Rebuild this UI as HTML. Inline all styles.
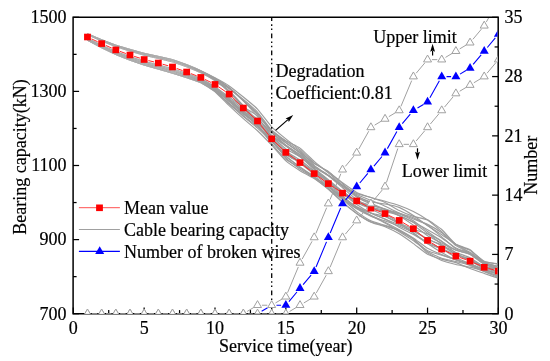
<!DOCTYPE html>
<html><head><meta charset="utf-8"><style>
html,body{margin:0;padding:0;background:#fff;width:550px;height:361px;overflow:hidden;}
svg{display:block;font-family:"Liberation Serif",serif;will-change:transform;}
</style></head><body>
<svg width="550" height="361" viewBox="0 0 550 361">
<defs><clipPath id="pc"><rect x="73.75" y="17.95" width="423.7" height="295.1"/></clipPath><clipPath id="pc2"><rect x="73.75" y="17.95" width="423.7" height="295.75"/></clipPath><linearGradient id="ge" gradientUnits="userSpaceOnUse" x1="180" y1="0" x2="220" y2="0"><stop offset="0" stop-color="#fff"/><stop offset="1" stop-color="#000"/></linearGradient><linearGradient id="gl" gradientUnits="userSpaceOnUse" x1="180" y1="0" x2="220" y2="0"><stop offset="0" stop-color="#000"/><stop offset="1" stop-color="#fff"/></linearGradient><mask id="early" maskUnits="userSpaceOnUse" x="0" y="0" width="550" height="361"><rect width="550" height="361" fill="url(#ge)"/></mask><mask id="late" maskUnits="userSpaceOnUse" x="0" y="0" width="550" height="361"><rect width="550" height="361" fill="url(#gl)"/></mask><clipPath id="pc3"><rect x="73.75" y="17.95" width="423.7" height="295.05"/></clipPath></defs>
<rect width="550" height="361" fill="#fff"/>
<path d="M73.1,16.55V314.45M498.2,16.55V314.45M72.35,17.3H498.95M72.35,313.75H498.95" fill="none" stroke="#000" stroke-width="1.5"/>
<line x1="73" y1="313.70" x2="79.10" y2="313.70" stroke="#000" stroke-width="1.25"/>
<line x1="73" y1="276.65" x2="76.60" y2="276.65" stroke="#000" stroke-width="1.25"/>
<line x1="73" y1="239.60" x2="79.10" y2="239.60" stroke="#000" stroke-width="1.25"/>
<line x1="73" y1="202.55" x2="76.60" y2="202.55" stroke="#000" stroke-width="1.25"/>
<line x1="73" y1="165.50" x2="79.10" y2="165.50" stroke="#000" stroke-width="1.25"/>
<line x1="73" y1="128.45" x2="76.60" y2="128.45" stroke="#000" stroke-width="1.25"/>
<line x1="73" y1="91.40" x2="79.10" y2="91.40" stroke="#000" stroke-width="1.25"/>
<line x1="73" y1="54.35" x2="76.60" y2="54.35" stroke="#000" stroke-width="1.25"/>
<line x1="73" y1="17.30" x2="79.10" y2="17.30" stroke="#000" stroke-width="1.25"/>
<line x1="498.2" y1="313.70" x2="492.10" y2="313.70" stroke="#000" stroke-width="1.25"/>
<line x1="498.2" y1="284.06" x2="494.60" y2="284.06" stroke="#000" stroke-width="1.25"/>
<line x1="498.2" y1="254.42" x2="492.10" y2="254.42" stroke="#000" stroke-width="1.25"/>
<line x1="498.2" y1="224.78" x2="494.60" y2="224.78" stroke="#000" stroke-width="1.25"/>
<line x1="498.2" y1="195.14" x2="492.10" y2="195.14" stroke="#000" stroke-width="1.25"/>
<line x1="498.2" y1="165.50" x2="494.60" y2="165.50" stroke="#000" stroke-width="1.25"/>
<line x1="498.2" y1="135.86" x2="492.10" y2="135.86" stroke="#000" stroke-width="1.25"/>
<line x1="498.2" y1="106.22" x2="494.60" y2="106.22" stroke="#000" stroke-width="1.25"/>
<line x1="498.2" y1="76.58" x2="492.10" y2="76.58" stroke="#000" stroke-width="1.25"/>
<line x1="498.2" y1="46.94" x2="494.60" y2="46.94" stroke="#000" stroke-width="1.25"/>
<line x1="498.2" y1="17.30" x2="492.10" y2="17.30" stroke="#000" stroke-width="1.25"/>
<line x1="73.30" y1="313.7" x2="73.30" y2="307.60" stroke="#000" stroke-width="1.25"/>
<line x1="108.72" y1="313.7" x2="108.72" y2="310.10" stroke="#000" stroke-width="1.25"/>
<line x1="144.15" y1="313.7" x2="144.15" y2="307.60" stroke="#000" stroke-width="1.25"/>
<line x1="179.57" y1="313.7" x2="179.57" y2="310.10" stroke="#000" stroke-width="1.25"/>
<line x1="215.00" y1="313.7" x2="215.00" y2="307.60" stroke="#000" stroke-width="1.25"/>
<line x1="250.43" y1="313.7" x2="250.43" y2="310.10" stroke="#000" stroke-width="1.25"/>
<line x1="285.85" y1="313.7" x2="285.85" y2="307.60" stroke="#000" stroke-width="1.25"/>
<line x1="321.27" y1="313.7" x2="321.27" y2="310.10" stroke="#000" stroke-width="1.25"/>
<line x1="356.70" y1="313.7" x2="356.70" y2="307.60" stroke="#000" stroke-width="1.25"/>
<line x1="392.12" y1="313.7" x2="392.12" y2="310.10" stroke="#000" stroke-width="1.25"/>
<line x1="427.55" y1="313.7" x2="427.55" y2="307.60" stroke="#000" stroke-width="1.25"/>
<line x1="462.98" y1="313.7" x2="462.98" y2="310.10" stroke="#000" stroke-width="1.25"/>
<line x1="498.40" y1="313.7" x2="498.40" y2="307.60" stroke="#000" stroke-width="1.25"/>
<g clip-path="url(#pc)">
<path d="M87.47,33.69C88.41,34.08 99.75,38.86 101.64,39.62C103.53,40.38 113.92,44.43 115.81,45.08C117.70,45.72 128.09,48.74 129.98,49.29C131.87,49.83 142.26,52.77 144.15,53.24C146.04,53.71 156.43,55.93 158.32,56.36C160.21,56.79 170.60,59.14 172.49,59.69C174.38,60.24 184.77,63.92 186.66,64.66C188.55,65.39 198.94,69.81 200.83,70.69C202.72,71.57 213.11,76.80 215.00,77.82C216.89,78.83 227.28,84.65 229.17,85.93C231.06,87.21 241.45,95.49 243.34,97.03C245.23,98.57 255.62,107.07 257.51,109.06C259.40,111.05 269.79,124.88 271.68,126.86C273.57,128.85 283.96,137.36 285.85,138.89C287.74,140.42 298.13,148.21 300.02,149.81C301.91,151.42 312.30,161.53 314.19,163.02C316.08,164.50 326.47,170.73 328.36,172.05C330.25,173.37 340.64,181.47 342.53,182.83C344.42,184.19 354.81,191.44 356.70,192.42C358.59,193.40 368.98,196.94 370.87,197.53C372.76,198.12 383.15,200.70 385.04,201.24C386.93,201.78 397.32,204.88 399.21,205.57C401.10,206.26 411.49,210.64 413.38,211.59C415.27,212.55 425.66,218.57 427.55,219.91C429.44,221.24 439.83,229.93 441.72,231.57C443.61,233.21 454.00,243.28 455.89,244.53C457.78,245.78 468.17,249.22 470.06,250.34C471.95,251.46 482.34,260.40 484.23,261.33C486.12,262.26 497.46,264.07 498.40,264.27" fill="none" stroke="#aaaaaa" stroke-width="0.85" mask="url(#early)"/>
<path d="M87.47,33.69C88.41,34.08 99.75,38.86 101.64,39.62C103.53,40.38 113.92,44.43 115.81,45.08C117.70,45.72 128.09,48.74 129.98,49.29C131.87,49.83 142.26,52.77 144.15,53.24C146.04,53.71 156.43,55.93 158.32,56.36C160.21,56.79 170.60,59.14 172.49,59.69C174.38,60.24 184.77,63.92 186.66,64.66C188.55,65.39 198.94,69.81 200.83,70.69C202.72,71.57 213.11,76.80 215.00,77.82C216.89,78.83 227.28,84.65 229.17,85.93C231.06,87.21 241.45,95.49 243.34,97.03C245.23,98.57 255.62,107.07 257.51,109.06C259.40,111.05 269.79,124.88 271.68,126.86C273.57,128.85 283.96,137.36 285.85,138.89C287.74,140.42 298.13,148.21 300.02,149.81C301.91,151.42 312.30,161.53 314.19,163.02C316.08,164.50 326.47,170.73 328.36,172.05C330.25,173.37 340.64,181.47 342.53,182.83C344.42,184.19 354.81,191.44 356.70,192.42C358.59,193.40 368.98,196.94 370.87,197.53C372.76,198.12 383.15,200.70 385.04,201.24C386.93,201.78 397.32,204.88 399.21,205.57C401.10,206.26 411.49,210.64 413.38,211.59C415.27,212.55 425.66,218.57 427.55,219.91C429.44,221.24 439.83,229.93 441.72,231.57C443.61,233.21 454.00,243.28 455.89,244.53C457.78,245.78 468.17,249.22 470.06,250.34C471.95,251.46 482.34,260.40 484.23,261.33C486.12,262.26 497.46,264.07 498.40,264.27" fill="none" stroke="#9c9c9c" stroke-width="1.15" mask="url(#late)"/>
<path d="M87.47,33.71C88.41,34.10 99.75,38.84 101.64,39.60C103.53,40.36 113.92,44.43 115.81,45.08C117.70,45.72 128.09,48.79 129.98,49.34C131.87,49.89 142.26,52.82 144.15,53.28C146.04,53.75 156.43,55.88 158.32,56.30C160.21,56.72 170.60,59.01 172.49,59.57C174.38,60.12 184.77,63.86 186.66,64.61C188.55,65.35 198.94,69.82 200.83,70.74C202.72,71.65 213.11,77.19 215.00,78.33C216.89,79.46 227.28,86.24 229.17,87.74C231.06,89.24 241.45,98.93 243.34,100.86C245.23,102.80 255.62,114.40 257.51,116.74C259.40,119.08 269.79,133.84 271.68,135.99C273.57,138.13 283.96,147.47 285.85,148.86C287.74,150.24 298.13,155.44 300.02,156.77C301.91,158.11 312.30,167.23 314.19,168.87C316.08,170.52 326.47,179.81 328.36,181.46C330.25,183.11 340.64,192.30 342.53,193.66C344.42,195.02 354.81,200.96 356.70,201.84C358.59,202.72 368.98,206.02 370.87,206.81C372.76,207.59 383.15,212.56 385.04,213.63C386.93,214.69 397.32,221.73 399.21,222.77C401.10,223.80 411.49,228.44 413.38,229.18C415.27,229.92 425.66,233.08 427.55,233.88C429.44,234.68 439.83,239.89 441.72,241.18C443.61,242.48 454.00,251.98 455.89,253.27C457.78,254.57 468.17,259.66 470.06,260.59C471.95,261.51 482.34,266.57 484.23,267.16C486.12,267.76 497.46,269.38 498.40,269.54" fill="none" stroke="#aaaaaa" stroke-width="0.85" mask="url(#early)"/>
<path d="M87.47,33.71C88.41,34.10 99.75,38.84 101.64,39.60C103.53,40.36 113.92,44.43 115.81,45.08C117.70,45.72 128.09,48.79 129.98,49.34C131.87,49.89 142.26,52.82 144.15,53.28C146.04,53.75 156.43,55.88 158.32,56.30C160.21,56.72 170.60,59.01 172.49,59.57C174.38,60.12 184.77,63.86 186.66,64.61C188.55,65.35 198.94,69.82 200.83,70.74C202.72,71.65 213.11,77.19 215.00,78.33C216.89,79.46 227.28,86.24 229.17,87.74C231.06,89.24 241.45,98.93 243.34,100.86C245.23,102.80 255.62,114.40 257.51,116.74C259.40,119.08 269.79,133.84 271.68,135.99C273.57,138.13 283.96,147.47 285.85,148.86C287.74,150.24 298.13,155.44 300.02,156.77C301.91,158.11 312.30,167.23 314.19,168.87C316.08,170.52 326.47,179.81 328.36,181.46C330.25,183.11 340.64,192.30 342.53,193.66C344.42,195.02 354.81,200.96 356.70,201.84C358.59,202.72 368.98,206.02 370.87,206.81C372.76,207.59 383.15,212.56 385.04,213.63C386.93,214.69 397.32,221.73 399.21,222.77C401.10,223.80 411.49,228.44 413.38,229.18C415.27,229.92 425.66,233.08 427.55,233.88C429.44,234.68 439.83,239.89 441.72,241.18C443.61,242.48 454.00,251.98 455.89,253.27C457.78,254.57 468.17,259.66 470.06,260.59C471.95,261.51 482.34,266.57 484.23,267.16C486.12,267.76 497.46,269.38 498.40,269.54" fill="none" stroke="#9c9c9c" stroke-width="1.15" mask="url(#late)"/>
<path d="M87.47,33.72C88.41,34.12 99.75,38.88 101.64,39.64C103.53,40.39 113.92,44.43 115.81,45.07C117.70,45.71 128.09,48.74 129.98,49.29C131.87,49.83 142.26,52.78 144.15,53.26C146.04,53.73 156.43,55.93 158.32,56.36C160.21,56.78 170.60,59.08 172.49,59.63C174.38,60.18 184.77,63.84 186.66,64.58C188.55,65.31 198.94,69.75 200.83,70.66C202.72,71.57 213.11,77.03 215.00,78.17C216.89,79.31 227.28,86.24 229.17,87.71C231.06,89.19 241.45,98.60 243.34,100.31C245.23,102.02 255.62,111.27 257.51,113.35C259.40,115.43 269.79,129.35 271.68,131.52C273.57,133.69 283.96,144.26 285.85,145.94C287.74,147.62 298.13,155.28 300.02,156.71C301.91,158.13 312.30,166.02 314.19,167.30C316.08,168.58 326.47,174.53 328.36,175.89C330.25,177.26 340.64,186.17 342.53,187.76C344.42,189.35 354.81,198.41 356.70,199.70C358.59,200.98 368.98,206.34 370.87,207.05C372.76,207.77 383.15,210.01 385.04,210.46C386.93,210.92 397.32,213.18 399.21,213.87C401.10,214.56 411.49,219.63 413.38,220.80C415.27,221.98 425.66,230.11 427.55,231.48C429.44,232.86 439.83,240.18 441.72,241.42C443.61,242.65 454.00,249.16 455.89,250.01C457.78,250.86 468.17,253.26 470.06,254.21C471.95,255.15 482.34,263.14 484.23,264.12C486.12,265.10 497.46,268.59 498.40,268.91" fill="none" stroke="#aaaaaa" stroke-width="0.85" mask="url(#early)"/>
<path d="M87.47,33.72C88.41,34.12 99.75,38.88 101.64,39.64C103.53,40.39 113.92,44.43 115.81,45.07C117.70,45.71 128.09,48.74 129.98,49.29C131.87,49.83 142.26,52.78 144.15,53.26C146.04,53.73 156.43,55.93 158.32,56.36C160.21,56.78 170.60,59.08 172.49,59.63C174.38,60.18 184.77,63.84 186.66,64.58C188.55,65.31 198.94,69.75 200.83,70.66C202.72,71.57 213.11,77.03 215.00,78.17C216.89,79.31 227.28,86.24 229.17,87.71C231.06,89.19 241.45,98.60 243.34,100.31C245.23,102.02 255.62,111.27 257.51,113.35C259.40,115.43 269.79,129.35 271.68,131.52C273.57,133.69 283.96,144.26 285.85,145.94C287.74,147.62 298.13,155.28 300.02,156.71C301.91,158.13 312.30,166.02 314.19,167.30C316.08,168.58 326.47,174.53 328.36,175.89C330.25,177.26 340.64,186.17 342.53,187.76C344.42,189.35 354.81,198.41 356.70,199.70C358.59,200.98 368.98,206.34 370.87,207.05C372.76,207.77 383.15,210.01 385.04,210.46C386.93,210.92 397.32,213.18 399.21,213.87C401.10,214.56 411.49,219.63 413.38,220.80C415.27,221.98 425.66,230.11 427.55,231.48C429.44,232.86 439.83,240.18 441.72,241.42C443.61,242.65 454.00,249.16 455.89,250.01C457.78,250.86 468.17,253.26 470.06,254.21C471.95,255.15 482.34,263.14 484.23,264.12C486.12,265.10 497.46,268.59 498.40,268.91" fill="none" stroke="#9c9c9c" stroke-width="1.15" mask="url(#late)"/>
<path d="M87.47,34.26C88.41,34.67 99.75,39.55 101.64,40.33C103.53,41.10 113.92,45.25 115.81,45.91C117.70,46.57 128.09,49.69 129.98,50.25C131.87,50.81 142.26,53.80 144.15,54.28C146.04,54.76 156.43,57.03 158.32,57.46C160.21,57.90 170.60,60.29 172.49,60.84C174.38,61.39 184.77,65.02 186.66,65.75C188.55,66.47 198.94,70.80 200.83,71.69C202.72,72.58 213.11,77.99 215.00,79.10C216.89,80.21 227.28,86.87 229.17,88.32C231.06,89.77 241.45,99.13 243.34,100.88C245.23,102.62 255.62,112.43 257.51,114.52C259.40,116.61 269.79,130.18 271.68,132.22C273.57,134.26 283.96,143.63 285.85,145.15C287.74,146.67 298.13,153.58 300.02,154.99C301.91,156.41 312.30,165.00 314.19,166.35C316.08,167.71 326.47,173.97 328.36,175.30C330.25,176.64 340.64,184.93 342.53,186.38C344.42,187.83 354.81,195.85 356.70,197.03C358.59,198.21 368.98,203.27 370.87,204.11C372.76,204.95 383.15,208.86 385.04,209.61C386.93,210.37 397.32,214.61 399.21,215.43C401.10,216.26 411.49,221.02 413.38,221.97C415.27,222.92 425.66,228.57 427.55,229.63C429.44,230.69 439.83,236.68 441.72,237.90C443.61,239.12 454.00,246.88 455.89,247.90C457.78,248.93 468.17,252.18 470.06,253.22C471.95,254.26 482.34,262.55 484.23,263.52C486.12,264.48 497.46,267.39 498.40,267.66" fill="none" stroke="#aaaaaa" stroke-width="0.85" mask="url(#early)"/>
<path d="M87.47,34.26C88.41,34.67 99.75,39.55 101.64,40.33C103.53,41.10 113.92,45.25 115.81,45.91C117.70,46.57 128.09,49.69 129.98,50.25C131.87,50.81 142.26,53.80 144.15,54.28C146.04,54.76 156.43,57.03 158.32,57.46C160.21,57.90 170.60,60.29 172.49,60.84C174.38,61.39 184.77,65.02 186.66,65.75C188.55,66.47 198.94,70.80 200.83,71.69C202.72,72.58 213.11,77.99 215.00,79.10C216.89,80.21 227.28,86.87 229.17,88.32C231.06,89.77 241.45,99.13 243.34,100.88C245.23,102.62 255.62,112.43 257.51,114.52C259.40,116.61 269.79,130.18 271.68,132.22C273.57,134.26 283.96,143.63 285.85,145.15C287.74,146.67 298.13,153.58 300.02,154.99C301.91,156.41 312.30,165.00 314.19,166.35C316.08,167.71 326.47,173.97 328.36,175.30C330.25,176.64 340.64,184.93 342.53,186.38C344.42,187.83 354.81,195.85 356.70,197.03C358.59,198.21 368.98,203.27 370.87,204.11C372.76,204.95 383.15,208.86 385.04,209.61C386.93,210.37 397.32,214.61 399.21,215.43C401.10,216.26 411.49,221.02 413.38,221.97C415.27,222.92 425.66,228.57 427.55,229.63C429.44,230.69 439.83,236.68 441.72,237.90C443.61,239.12 454.00,246.88 455.89,247.90C457.78,248.93 468.17,252.18 470.06,253.22C471.95,254.26 482.34,262.55 484.23,263.52C486.12,264.48 497.46,267.39 498.40,267.66" fill="none" stroke="#9c9c9c" stroke-width="1.15" mask="url(#late)"/>
<path d="M87.47,34.28C88.41,34.69 99.75,39.59 101.64,40.37C103.53,41.14 113.92,45.29 115.81,45.95C117.70,46.61 128.09,49.71 129.98,50.27C131.87,50.82 142.26,53.78 144.15,54.25C146.04,54.73 156.43,56.97 158.32,57.40C160.21,57.84 170.60,60.22 172.49,60.77C174.38,61.32 184.77,64.98 186.66,65.71C188.55,66.44 198.94,70.78 200.83,71.70C202.72,72.63 213.11,78.35 215.00,79.62C216.89,80.89 227.28,89.01 229.17,90.75C231.06,92.48 241.45,103.63 243.34,105.64C245.23,107.66 255.62,118.78 257.51,120.94C259.40,123.11 269.79,135.96 271.68,138.06C273.57,140.16 283.96,150.80 285.85,152.47C287.74,154.14 298.13,161.66 300.02,163.12C301.91,164.58 312.30,172.82 314.19,174.34C316.08,175.87 326.47,184.41 328.36,186.00C330.25,187.59 340.64,196.66 342.53,198.18C344.42,199.70 354.81,207.55 356.70,208.75C358.59,209.95 368.98,215.34 370.87,216.15C372.76,216.96 383.15,220.23 385.04,220.88C386.93,221.54 397.32,225.14 399.21,225.94C401.10,226.73 411.49,231.63 413.38,232.80C415.27,233.97 425.66,242.15 427.55,243.46C429.44,244.78 439.83,251.40 441.72,252.50C443.61,253.60 454.00,259.14 455.89,259.97C457.78,260.81 468.17,264.32 470.06,265.01C471.95,265.70 482.34,269.66 484.23,270.27C486.12,270.88 497.46,273.87 498.40,274.12" fill="none" stroke="#aaaaaa" stroke-width="0.85" mask="url(#early)"/>
<path d="M87.47,34.28C88.41,34.69 99.75,39.59 101.64,40.37C103.53,41.14 113.92,45.29 115.81,45.95C117.70,46.61 128.09,49.71 129.98,50.27C131.87,50.82 142.26,53.78 144.15,54.25C146.04,54.73 156.43,56.97 158.32,57.40C160.21,57.84 170.60,60.22 172.49,60.77C174.38,61.32 184.77,64.98 186.66,65.71C188.55,66.44 198.94,70.78 200.83,71.70C202.72,72.63 213.11,78.35 215.00,79.62C216.89,80.89 227.28,89.01 229.17,90.75C231.06,92.48 241.45,103.63 243.34,105.64C245.23,107.66 255.62,118.78 257.51,120.94C259.40,123.11 269.79,135.96 271.68,138.06C273.57,140.16 283.96,150.80 285.85,152.47C287.74,154.14 298.13,161.66 300.02,163.12C301.91,164.58 312.30,172.82 314.19,174.34C316.08,175.87 326.47,184.41 328.36,186.00C330.25,187.59 340.64,196.66 342.53,198.18C344.42,199.70 354.81,207.55 356.70,208.75C358.59,209.95 368.98,215.34 370.87,216.15C372.76,216.96 383.15,220.23 385.04,220.88C386.93,221.54 397.32,225.14 399.21,225.94C401.10,226.73 411.49,231.63 413.38,232.80C415.27,233.97 425.66,242.15 427.55,243.46C429.44,244.78 439.83,251.40 441.72,252.50C443.61,253.60 454.00,259.14 455.89,259.97C457.78,260.81 468.17,264.32 470.06,265.01C471.95,265.70 482.34,269.66 484.23,270.27C486.12,270.88 497.46,273.87 498.40,274.12" fill="none" stroke="#9c9c9c" stroke-width="1.15" mask="url(#late)"/>
<path d="M87.47,34.30C88.41,34.71 99.75,39.59 101.64,40.37C103.53,41.14 113.92,45.24 115.81,45.90C117.70,46.55 128.09,49.64 129.98,50.20C131.87,50.76 142.26,53.77 144.15,54.25C146.04,54.74 156.43,57.04 158.32,57.48C160.21,57.92 170.60,60.29 172.49,60.84C174.38,61.39 184.77,64.99 186.66,65.71C188.55,66.44 198.94,70.74 200.83,71.67C202.72,72.61 213.11,78.41 215.00,79.73C216.89,81.04 227.28,89.62 229.17,91.41C231.06,93.21 241.45,104.60 243.34,106.63C245.23,108.67 255.62,119.73 257.51,121.96C259.40,124.19 269.79,137.74 271.68,140.13C273.57,142.51 283.96,155.84 285.85,157.79C287.74,159.73 298.13,167.97 300.02,169.29C301.91,170.61 312.30,176.35 314.19,177.54C316.08,178.73 326.47,185.71 328.36,187.16C330.25,188.61 340.64,197.61 342.53,199.25C344.42,200.88 354.81,210.21 356.70,211.65C358.59,213.08 368.98,219.88 370.87,220.80C372.76,221.71 383.15,224.77 385.04,225.39C386.93,226.02 397.32,229.28 399.21,230.17C401.10,231.06 411.49,237.26 413.38,238.70C415.27,240.13 425.66,250.44 427.55,251.74C429.44,253.04 439.83,257.60 441.72,258.25C443.61,258.90 454.00,261.00 455.89,261.48C457.78,261.95 468.17,264.70 470.06,265.38C471.95,266.05 482.34,270.82 484.23,271.62C486.12,272.42 497.46,277.03 498.40,277.42" fill="none" stroke="#aaaaaa" stroke-width="0.85" mask="url(#early)"/>
<path d="M87.47,34.30C88.41,34.71 99.75,39.59 101.64,40.37C103.53,41.14 113.92,45.24 115.81,45.90C117.70,46.55 128.09,49.64 129.98,50.20C131.87,50.76 142.26,53.77 144.15,54.25C146.04,54.74 156.43,57.04 158.32,57.48C160.21,57.92 170.60,60.29 172.49,60.84C174.38,61.39 184.77,64.99 186.66,65.71C188.55,66.44 198.94,70.74 200.83,71.67C202.72,72.61 213.11,78.41 215.00,79.73C216.89,81.04 227.28,89.62 229.17,91.41C231.06,93.21 241.45,104.60 243.34,106.63C245.23,108.67 255.62,119.73 257.51,121.96C259.40,124.19 269.79,137.74 271.68,140.13C273.57,142.51 283.96,155.84 285.85,157.79C287.74,159.73 298.13,167.97 300.02,169.29C301.91,170.61 312.30,176.35 314.19,177.54C316.08,178.73 326.47,185.71 328.36,187.16C330.25,188.61 340.64,197.61 342.53,199.25C344.42,200.88 354.81,210.21 356.70,211.65C358.59,213.08 368.98,219.88 370.87,220.80C372.76,221.71 383.15,224.77 385.04,225.39C386.93,226.02 397.32,229.28 399.21,230.17C401.10,231.06 411.49,237.26 413.38,238.70C415.27,240.13 425.66,250.44 427.55,251.74C429.44,253.04 439.83,257.60 441.72,258.25C443.61,258.90 454.00,261.00 455.89,261.48C457.78,261.95 468.17,264.70 470.06,265.38C471.95,266.05 482.34,270.82 484.23,271.62C486.12,272.42 497.46,277.03 498.40,277.42" fill="none" stroke="#9c9c9c" stroke-width="1.15" mask="url(#late)"/>
<path d="M87.47,34.88C88.41,35.29 99.75,40.30 101.64,41.09C103.53,41.88 113.92,46.08 115.81,46.75C117.70,47.42 128.09,50.58 129.98,51.14C131.87,51.70 142.26,54.72 144.15,55.21C146.04,55.70 156.43,58.06 158.32,58.51C160.21,58.97 170.60,61.48 172.49,62.04C174.38,62.60 184.77,66.23 186.66,66.95C188.55,67.66 198.94,71.85 200.83,72.77C202.72,73.69 213.11,79.48 215.00,80.76C216.89,82.05 227.28,90.29 229.17,92.08C231.06,93.87 241.45,105.39 243.34,107.59C245.23,109.79 255.62,122.71 257.51,125.11C259.40,127.50 269.79,141.27 271.68,143.54C273.57,145.81 283.96,157.59 285.85,159.20C287.74,160.82 298.13,166.59 300.02,167.75C301.91,168.91 312.30,175.23 314.19,176.62C316.08,178.01 326.47,186.87 328.36,188.57C330.25,190.27 340.64,200.44 342.53,202.10C344.42,203.75 354.81,212.10 356.70,213.41C358.59,214.72 368.98,220.94 370.87,221.78C372.76,222.61 383.15,225.31 385.04,225.92C386.93,226.53 397.32,229.97 399.21,230.87C401.10,231.76 411.49,237.83 413.38,239.30C415.27,240.77 425.66,251.48 427.55,252.89C429.44,254.30 439.83,259.70 441.72,260.48C443.61,261.25 454.00,264.05 455.89,264.50C457.78,264.95 468.17,266.72 470.06,267.17C471.95,267.62 482.34,270.58 484.23,271.19C486.12,271.79 497.46,275.96 498.40,276.30" fill="none" stroke="#aaaaaa" stroke-width="0.85" mask="url(#early)"/>
<path d="M87.47,34.88C88.41,35.29 99.75,40.30 101.64,41.09C103.53,41.88 113.92,46.08 115.81,46.75C117.70,47.42 128.09,50.58 129.98,51.14C131.87,51.70 142.26,54.72 144.15,55.21C146.04,55.70 156.43,58.06 158.32,58.51C160.21,58.97 170.60,61.48 172.49,62.04C174.38,62.60 184.77,66.23 186.66,66.95C188.55,67.66 198.94,71.85 200.83,72.77C202.72,73.69 213.11,79.48 215.00,80.76C216.89,82.05 227.28,90.29 229.17,92.08C231.06,93.87 241.45,105.39 243.34,107.59C245.23,109.79 255.62,122.71 257.51,125.11C259.40,127.50 269.79,141.27 271.68,143.54C273.57,145.81 283.96,157.59 285.85,159.20C287.74,160.82 298.13,166.59 300.02,167.75C301.91,168.91 312.30,175.23 314.19,176.62C316.08,178.01 326.47,186.87 328.36,188.57C330.25,190.27 340.64,200.44 342.53,202.10C344.42,203.75 354.81,212.10 356.70,213.41C358.59,214.72 368.98,220.94 370.87,221.78C372.76,222.61 383.15,225.31 385.04,225.92C386.93,226.53 397.32,229.97 399.21,230.87C401.10,231.76 411.49,237.83 413.38,239.30C415.27,240.77 425.66,251.48 427.55,252.89C429.44,254.30 439.83,259.70 441.72,260.48C443.61,261.25 454.00,264.05 455.89,264.50C457.78,264.95 468.17,266.72 470.06,267.17C471.95,267.62 482.34,270.58 484.23,271.19C486.12,271.79 497.46,275.96 498.40,276.30" fill="none" stroke="#9c9c9c" stroke-width="1.15" mask="url(#late)"/>
<path d="M87.47,34.87C88.41,35.28 99.75,40.23 101.64,41.02C103.53,41.80 113.92,46.02 115.81,46.70C117.70,47.37 128.09,50.63 129.98,51.20C131.87,51.78 142.26,54.85 144.15,55.34C146.04,55.82 156.43,58.10 158.32,58.53C160.21,58.97 170.60,61.37 172.49,61.92C174.38,62.48 184.77,66.13 186.66,66.85C188.55,67.58 198.94,71.90 200.83,72.79C202.72,73.69 213.11,79.18 215.00,80.24C216.89,81.31 227.28,87.49 229.17,88.76C231.06,90.04 241.45,97.77 243.34,99.32C245.23,100.88 255.62,110.01 257.51,112.07C259.40,114.12 269.79,128.27 271.68,130.18C273.57,132.10 283.96,139.54 285.85,140.74C287.74,141.94 298.13,146.75 300.02,148.13C301.91,149.51 312.30,159.75 314.19,161.40C316.08,163.05 326.47,171.27 328.36,172.86C330.25,174.45 340.64,183.83 342.53,185.20C344.42,186.58 354.81,192.67 356.70,193.49C358.59,194.31 368.98,196.93 370.87,197.53C372.76,198.13 383.15,201.58 385.04,202.44C386.93,203.30 397.32,209.51 399.21,210.44C401.10,211.37 411.49,215.71 413.38,216.34C415.27,216.96 425.66,218.95 427.55,219.83C429.44,220.71 439.83,227.88 441.72,229.52C443.61,231.17 454.00,243.01 455.89,244.52C457.78,246.03 468.17,250.97 470.06,252.12C471.95,253.28 482.34,261.07 484.23,261.85C486.12,262.63 497.46,263.66 498.40,263.79" fill="none" stroke="#aaaaaa" stroke-width="0.85" mask="url(#early)"/>
<path d="M87.47,34.87C88.41,35.28 99.75,40.23 101.64,41.02C103.53,41.80 113.92,46.02 115.81,46.70C117.70,47.37 128.09,50.63 129.98,51.20C131.87,51.78 142.26,54.85 144.15,55.34C146.04,55.82 156.43,58.10 158.32,58.53C160.21,58.97 170.60,61.37 172.49,61.92C174.38,62.48 184.77,66.13 186.66,66.85C188.55,67.58 198.94,71.90 200.83,72.79C202.72,73.69 213.11,79.18 215.00,80.24C216.89,81.31 227.28,87.49 229.17,88.76C231.06,90.04 241.45,97.77 243.34,99.32C245.23,100.88 255.62,110.01 257.51,112.07C259.40,114.12 269.79,128.27 271.68,130.18C273.57,132.10 283.96,139.54 285.85,140.74C287.74,141.94 298.13,146.75 300.02,148.13C301.91,149.51 312.30,159.75 314.19,161.40C316.08,163.05 326.47,171.27 328.36,172.86C330.25,174.45 340.64,183.83 342.53,185.20C344.42,186.58 354.81,192.67 356.70,193.49C358.59,194.31 368.98,196.93 370.87,197.53C372.76,198.13 383.15,201.58 385.04,202.44C386.93,203.30 397.32,209.51 399.21,210.44C401.10,211.37 411.49,215.71 413.38,216.34C415.27,216.96 425.66,218.95 427.55,219.83C429.44,220.71 439.83,227.88 441.72,229.52C443.61,231.17 454.00,243.01 455.89,244.52C457.78,246.03 468.17,250.97 470.06,252.12C471.95,253.28 482.34,261.07 484.23,261.85C486.12,262.63 497.46,263.66 498.40,263.79" fill="none" stroke="#9c9c9c" stroke-width="1.15" mask="url(#late)"/>
<path d="M87.47,38.18C88.41,38.64 99.75,44.22 101.64,45.10C103.53,45.99 113.92,50.65 115.81,51.41C117.70,52.18 128.09,55.90 129.98,56.55C131.87,57.20 142.26,60.61 144.15,61.16C146.04,61.72 156.43,64.42 158.32,64.93C160.21,65.44 170.60,68.21 172.49,68.77C174.38,69.33 184.77,72.69 186.66,73.35C188.55,74.01 198.94,77.76 200.83,78.65C202.72,79.54 213.11,85.40 215.00,86.63C216.89,87.85 227.28,95.64 229.17,97.00C231.06,98.35 241.45,105.67 243.34,106.93C245.23,108.19 255.62,114.31 257.51,115.88C259.40,117.44 269.79,128.68 271.68,130.45C273.57,132.23 283.96,140.99 285.85,142.46C287.74,143.93 298.13,151.05 300.02,152.45C301.91,153.86 312.30,162.21 314.19,163.48C316.08,164.75 326.47,170.10 328.36,171.45C330.25,172.80 340.64,182.11 342.53,183.75C344.42,185.38 354.81,194.71 356.70,195.93C358.59,197.15 368.98,201.51 370.87,202.04C372.76,202.58 383.15,203.62 385.04,203.98C386.93,204.33 397.32,206.59 399.21,207.36C401.10,208.13 411.49,214.30 413.38,215.52C415.27,216.75 425.66,224.47 427.55,225.75C429.44,227.02 439.83,233.43 441.72,234.67C443.61,235.91 454.00,243.33 455.89,244.34C457.78,245.34 468.17,248.62 470.06,249.81C471.95,251.01 482.34,261.17 484.23,262.29C486.12,263.42 497.46,266.38 498.40,266.67" fill="none" stroke="#aaaaaa" stroke-width="0.85" mask="url(#early)"/>
<path d="M87.47,38.18C88.41,38.64 99.75,44.22 101.64,45.10C103.53,45.99 113.92,50.65 115.81,51.41C117.70,52.18 128.09,55.90 129.98,56.55C131.87,57.20 142.26,60.61 144.15,61.16C146.04,61.72 156.43,64.42 158.32,64.93C160.21,65.44 170.60,68.21 172.49,68.77C174.38,69.33 184.77,72.69 186.66,73.35C188.55,74.01 198.94,77.76 200.83,78.65C202.72,79.54 213.11,85.40 215.00,86.63C216.89,87.85 227.28,95.64 229.17,97.00C231.06,98.35 241.45,105.67 243.34,106.93C245.23,108.19 255.62,114.31 257.51,115.88C259.40,117.44 269.79,128.68 271.68,130.45C273.57,132.23 283.96,140.99 285.85,142.46C287.74,143.93 298.13,151.05 300.02,152.45C301.91,153.86 312.30,162.21 314.19,163.48C316.08,164.75 326.47,170.10 328.36,171.45C330.25,172.80 340.64,182.11 342.53,183.75C344.42,185.38 354.81,194.71 356.70,195.93C358.59,197.15 368.98,201.51 370.87,202.04C372.76,202.58 383.15,203.62 385.04,203.98C386.93,204.33 397.32,206.59 399.21,207.36C401.10,208.13 411.49,214.30 413.38,215.52C415.27,216.75 425.66,224.47 427.55,225.75C429.44,227.02 439.83,233.43 441.72,234.67C443.61,235.91 454.00,243.33 455.89,244.34C457.78,245.34 468.17,248.62 470.06,249.81C471.95,251.01 482.34,261.17 484.23,262.29C486.12,263.42 497.46,266.38 498.40,266.67" fill="none" stroke="#9c9c9c" stroke-width="1.15" mask="url(#late)"/>
<path d="M87.47,38.16C88.41,38.62 99.75,44.19 101.64,45.07C103.53,45.95 113.92,50.64 115.81,51.40C117.70,52.17 128.09,55.91 129.98,56.56C131.87,57.21 142.26,60.59 144.15,61.15C146.04,61.70 156.43,64.39 158.32,64.90C160.21,65.41 170.60,68.22 172.49,68.79C174.38,69.36 184.77,72.77 186.66,73.43C188.55,74.09 198.94,77.79 200.83,78.71C202.72,79.62 213.11,85.77 215.00,87.13C216.89,88.49 227.28,97.48 229.17,99.15C231.06,100.82 241.45,110.40 243.34,112.17C245.23,113.93 255.62,123.66 257.51,125.60C259.40,127.54 269.79,139.25 271.68,141.30C273.57,143.35 283.96,154.67 285.85,156.37C287.74,158.08 298.13,165.51 300.02,166.86C301.91,168.20 312.30,175.24 314.19,176.57C316.08,177.90 326.47,185.39 328.36,186.77C330.25,188.16 340.64,196.00 342.53,197.37C344.42,198.74 354.81,206.14 356.70,207.34C358.59,208.54 368.98,214.39 370.87,215.38C372.76,216.37 383.15,221.23 385.04,222.18C386.93,223.14 397.32,228.69 399.21,229.74C401.10,230.79 411.49,236.71 413.38,237.95C415.27,239.19 425.66,247.24 427.55,248.35C429.44,249.46 439.83,253.84 441.72,254.60C443.61,255.36 454.00,259.13 455.89,259.74C457.78,260.36 468.17,263.18 470.06,263.85C471.95,264.51 482.34,269.01 484.23,269.71C486.12,270.41 497.46,274.07 498.40,274.38" fill="none" stroke="#aaaaaa" stroke-width="0.85" mask="url(#early)"/>
<path d="M87.47,38.16C88.41,38.62 99.75,44.19 101.64,45.07C103.53,45.95 113.92,50.64 115.81,51.40C117.70,52.17 128.09,55.91 129.98,56.56C131.87,57.21 142.26,60.59 144.15,61.15C146.04,61.70 156.43,64.39 158.32,64.90C160.21,65.41 170.60,68.22 172.49,68.79C174.38,69.36 184.77,72.77 186.66,73.43C188.55,74.09 198.94,77.79 200.83,78.71C202.72,79.62 213.11,85.77 215.00,87.13C216.89,88.49 227.28,97.48 229.17,99.15C231.06,100.82 241.45,110.40 243.34,112.17C245.23,113.93 255.62,123.66 257.51,125.60C259.40,127.54 269.79,139.25 271.68,141.30C273.57,143.35 283.96,154.67 285.85,156.37C287.74,158.08 298.13,165.51 300.02,166.86C301.91,168.20 312.30,175.24 314.19,176.57C316.08,177.90 326.47,185.39 328.36,186.77C330.25,188.16 340.64,196.00 342.53,197.37C344.42,198.74 354.81,206.14 356.70,207.34C358.59,208.54 368.98,214.39 370.87,215.38C372.76,216.37 383.15,221.23 385.04,222.18C386.93,223.14 397.32,228.69 399.21,229.74C401.10,230.79 411.49,236.71 413.38,237.95C415.27,239.19 425.66,247.24 427.55,248.35C429.44,249.46 439.83,253.84 441.72,254.60C443.61,255.36 454.00,259.13 455.89,259.74C457.78,260.36 468.17,263.18 470.06,263.85C471.95,264.51 482.34,269.01 484.23,269.71C486.12,270.41 497.46,274.07 498.40,274.38" fill="none" stroke="#9c9c9c" stroke-width="1.15" mask="url(#late)"/>
<path d="M87.47,38.76C88.41,39.24 99.75,44.92 101.64,45.82C103.53,46.72 113.92,51.48 115.81,52.26C117.70,53.04 128.09,56.84 129.98,57.50C131.87,58.15 142.26,61.56 144.15,62.13C146.04,62.69 156.43,65.42 158.32,65.94C160.21,66.46 170.60,69.35 172.49,69.93C174.38,70.50 184.77,73.91 186.66,74.57C188.55,75.22 198.94,78.88 200.83,79.78C202.72,80.68 213.11,86.81 215.00,88.13C216.89,89.45 227.28,98.01 229.17,99.52C231.06,101.03 241.45,109.25 243.34,110.75C245.23,112.25 255.62,120.28 257.51,122.04C259.40,123.80 269.79,135.23 271.68,137.17C273.57,139.10 283.96,149.48 285.85,151.13C287.74,152.78 298.13,160.50 300.02,161.92C301.91,163.35 312.30,171.16 314.19,172.47C316.08,173.78 326.47,180.29 328.36,181.56C330.25,182.83 340.64,190.16 342.53,191.47C344.42,192.79 354.81,200.09 356.70,201.26C358.59,202.43 368.98,208.00 370.87,208.99C372.76,209.98 383.15,215.14 385.04,216.13C386.93,217.12 397.32,222.83 399.21,223.84C401.10,224.85 411.49,230.25 413.38,231.27C415.27,232.30 425.66,238.26 427.55,239.17C429.44,240.08 439.83,244.09 441.72,244.97C443.61,245.85 454.00,251.58 455.89,252.43C457.78,253.28 468.17,256.77 470.06,257.73C471.95,258.69 482.34,265.91 484.23,266.87C486.12,267.83 497.46,271.74 498.40,272.09" fill="none" stroke="#aaaaaa" stroke-width="0.85" mask="url(#early)"/>
<path d="M87.47,38.76C88.41,39.24 99.75,44.92 101.64,45.82C103.53,46.72 113.92,51.48 115.81,52.26C117.70,53.04 128.09,56.84 129.98,57.50C131.87,58.15 142.26,61.56 144.15,62.13C146.04,62.69 156.43,65.42 158.32,65.94C160.21,66.46 170.60,69.35 172.49,69.93C174.38,70.50 184.77,73.91 186.66,74.57C188.55,75.22 198.94,78.88 200.83,79.78C202.72,80.68 213.11,86.81 215.00,88.13C216.89,89.45 227.28,98.01 229.17,99.52C231.06,101.03 241.45,109.25 243.34,110.75C245.23,112.25 255.62,120.28 257.51,122.04C259.40,123.80 269.79,135.23 271.68,137.17C273.57,139.10 283.96,149.48 285.85,151.13C287.74,152.78 298.13,160.50 300.02,161.92C301.91,163.35 312.30,171.16 314.19,172.47C316.08,173.78 326.47,180.29 328.36,181.56C330.25,182.83 340.64,190.16 342.53,191.47C344.42,192.79 354.81,200.09 356.70,201.26C358.59,202.43 368.98,208.00 370.87,208.99C372.76,209.98 383.15,215.14 385.04,216.13C386.93,217.12 397.32,222.83 399.21,223.84C401.10,224.85 411.49,230.25 413.38,231.27C415.27,232.30 425.66,238.26 427.55,239.17C429.44,240.08 439.83,244.09 441.72,244.97C443.61,245.85 454.00,251.58 455.89,252.43C457.78,253.28 468.17,256.77 470.06,257.73C471.95,258.69 482.34,265.91 484.23,266.87C486.12,267.83 497.46,271.74 498.40,272.09" fill="none" stroke="#9c9c9c" stroke-width="1.15" mask="url(#late)"/>
<path d="M87.47,38.76C88.41,39.23 99.75,44.91 101.64,45.81C103.53,46.71 113.92,51.46 115.81,52.24C117.70,53.02 128.09,56.82 129.98,57.49C131.87,58.15 142.26,61.59 144.15,62.16C146.04,62.73 156.43,65.49 158.32,66.01C160.21,66.53 170.60,69.41 172.49,69.98C174.38,70.55 184.77,73.88 186.66,74.53C188.55,75.18 198.94,78.81 200.83,79.68C202.72,80.56 213.11,86.41 215.00,87.64C216.89,88.88 227.28,96.73 229.17,98.16C231.06,99.58 241.45,107.62 243.34,109.01C245.23,110.41 255.62,117.57 257.51,119.09C259.40,120.61 269.79,130.40 271.68,131.86C273.57,133.33 283.96,139.82 285.85,141.11C287.74,142.41 298.13,149.64 300.02,151.26C301.91,152.88 312.30,163.74 314.19,165.35C316.08,166.97 326.47,174.11 328.36,175.47C330.25,176.83 340.64,184.46 342.53,185.73C344.42,187.00 354.81,193.59 356.70,194.56C358.59,195.53 368.98,199.52 370.87,200.30C372.76,201.08 383.15,205.40 385.04,206.25C386.93,207.10 397.32,212.20 399.21,213.05C401.10,213.90 411.49,218.25 413.38,219.00C415.27,219.76 425.66,223.45 427.55,224.37C429.44,225.29 439.83,231.35 441.72,232.77C443.61,234.19 454.00,244.29 455.89,245.64C457.78,246.99 468.17,251.83 470.06,253.03C471.95,254.23 482.34,262.77 484.23,263.67C486.12,264.58 497.46,266.45 498.40,266.65" fill="none" stroke="#aaaaaa" stroke-width="0.85" mask="url(#early)"/>
<path d="M87.47,38.76C88.41,39.23 99.75,44.91 101.64,45.81C103.53,46.71 113.92,51.46 115.81,52.24C117.70,53.02 128.09,56.82 129.98,57.49C131.87,58.15 142.26,61.59 144.15,62.16C146.04,62.73 156.43,65.49 158.32,66.01C160.21,66.53 170.60,69.41 172.49,69.98C174.38,70.55 184.77,73.88 186.66,74.53C188.55,75.18 198.94,78.81 200.83,79.68C202.72,80.56 213.11,86.41 215.00,87.64C216.89,88.88 227.28,96.73 229.17,98.16C231.06,99.58 241.45,107.62 243.34,109.01C245.23,110.41 255.62,117.57 257.51,119.09C259.40,120.61 269.79,130.40 271.68,131.86C273.57,133.33 283.96,139.82 285.85,141.11C287.74,142.41 298.13,149.64 300.02,151.26C301.91,152.88 312.30,163.74 314.19,165.35C316.08,166.97 326.47,174.11 328.36,175.47C330.25,176.83 340.64,184.46 342.53,185.73C344.42,187.00 354.81,193.59 356.70,194.56C358.59,195.53 368.98,199.52 370.87,200.30C372.76,201.08 383.15,205.40 385.04,206.25C386.93,207.10 397.32,212.20 399.21,213.05C401.10,213.90 411.49,218.25 413.38,219.00C415.27,219.76 425.66,223.45 427.55,224.37C429.44,225.29 439.83,231.35 441.72,232.77C443.61,234.19 454.00,244.29 455.89,245.64C457.78,246.99 468.17,251.83 470.06,253.03C471.95,254.23 482.34,262.77 484.23,263.67C486.12,264.58 497.46,266.45 498.40,266.65" fill="none" stroke="#9c9c9c" stroke-width="1.15" mask="url(#late)"/>
<path d="M87.47,39.31C88.41,39.78 99.75,45.54 101.64,46.45C103.53,47.37 113.92,52.24 115.81,53.05C117.70,53.85 128.09,57.82 129.98,58.50C131.87,59.18 142.26,62.69 144.15,63.26C146.04,63.83 156.43,66.57 158.32,67.09C160.21,67.61 170.60,70.47 172.49,71.04C174.38,71.61 184.77,74.97 186.66,75.62C188.55,76.27 198.94,79.87 200.83,80.79C202.72,81.71 213.11,88.00 215.00,89.37C216.89,90.74 227.28,99.77 229.17,101.33C231.06,102.88 241.45,111.17 243.34,112.73C245.23,114.30 255.62,122.95 257.51,124.79C259.40,126.64 269.79,138.43 271.68,140.39C273.57,142.35 283.96,152.75 285.85,154.20C287.74,155.64 298.13,160.97 300.02,162.12C301.91,163.26 312.30,170.06 314.19,171.41C316.08,172.76 326.47,180.73 328.36,182.36C330.25,183.99 340.64,194.22 342.53,195.87C344.42,197.51 354.81,205.88 356.70,207.02C358.59,208.16 368.98,212.37 370.87,213.01C372.76,213.64 383.15,215.84 385.04,216.52C386.93,217.21 397.32,222.12 399.21,223.23C401.10,224.34 411.49,231.80 413.38,233.17C415.27,234.54 425.66,242.72 427.55,243.76C429.44,244.80 439.83,248.07 441.72,248.81C443.61,249.54 454.00,253.94 455.89,254.72C457.78,255.51 468.17,259.63 470.06,260.59C471.95,261.55 482.34,268.29 484.23,269.19C486.12,270.08 497.46,273.71 498.40,274.03" fill="none" stroke="#aaaaaa" stroke-width="0.85" mask="url(#early)"/>
<path d="M87.47,39.31C88.41,39.78 99.75,45.54 101.64,46.45C103.53,47.37 113.92,52.24 115.81,53.05C117.70,53.85 128.09,57.82 129.98,58.50C131.87,59.18 142.26,62.69 144.15,63.26C146.04,63.83 156.43,66.57 158.32,67.09C160.21,67.61 170.60,70.47 172.49,71.04C174.38,71.61 184.77,74.97 186.66,75.62C188.55,76.27 198.94,79.87 200.83,80.79C202.72,81.71 213.11,88.00 215.00,89.37C216.89,90.74 227.28,99.77 229.17,101.33C231.06,102.88 241.45,111.17 243.34,112.73C245.23,114.30 255.62,122.95 257.51,124.79C259.40,126.64 269.79,138.43 271.68,140.39C273.57,142.35 283.96,152.75 285.85,154.20C287.74,155.64 298.13,160.97 300.02,162.12C301.91,163.26 312.30,170.06 314.19,171.41C316.08,172.76 326.47,180.73 328.36,182.36C330.25,183.99 340.64,194.22 342.53,195.87C344.42,197.51 354.81,205.88 356.70,207.02C358.59,208.16 368.98,212.37 370.87,213.01C372.76,213.64 383.15,215.84 385.04,216.52C386.93,217.21 397.32,222.12 399.21,223.23C401.10,224.34 411.49,231.80 413.38,233.17C415.27,234.54 425.66,242.72 427.55,243.76C429.44,244.80 439.83,248.07 441.72,248.81C443.61,249.54 454.00,253.94 455.89,254.72C457.78,255.51 468.17,259.63 470.06,260.59C471.95,261.55 482.34,268.29 484.23,269.19C486.12,270.08 497.46,273.71 498.40,274.03" fill="none" stroke="#9c9c9c" stroke-width="1.15" mask="url(#late)"/>
<path d="M87.47,39.31C88.41,39.79 99.75,45.54 101.64,46.46C103.53,47.37 113.92,52.22 115.81,53.02C117.70,53.82 128.09,57.77 129.98,58.45C131.87,59.13 142.26,62.67 144.15,63.25C146.04,63.83 156.43,66.63 158.32,67.16C160.21,67.68 170.60,70.58 172.49,71.14C174.38,71.70 184.77,74.98 186.66,75.62C188.55,76.26 198.94,79.80 200.83,80.69C202.72,81.58 213.11,87.62 215.00,88.93C216.89,90.25 227.28,98.86 229.17,100.41C231.06,101.96 241.45,110.65 243.34,112.16C245.23,113.67 255.62,121.49 257.51,123.05C259.40,124.61 269.79,134.07 271.68,135.55C273.57,137.03 283.96,143.97 285.85,145.24C287.74,146.52 298.13,153.09 300.02,154.61C301.91,156.13 312.30,166.39 314.19,168.06C316.08,169.73 326.47,178.13 328.36,179.70C330.25,181.26 340.64,190.14 342.53,191.54C344.42,192.94 354.81,199.74 356.70,200.66C358.59,201.58 368.98,204.79 370.87,205.35C372.76,205.90 383.15,208.35 385.04,209.04C386.93,209.72 397.32,214.58 399.21,215.65C401.10,216.72 411.49,223.77 413.38,225.11C415.27,226.44 425.66,234.46 427.55,235.66C429.44,236.85 439.83,242.10 441.72,243.08C443.61,244.05 454.00,249.53 455.89,250.28C457.78,251.04 468.17,253.43 470.06,254.37C471.95,255.31 482.34,263.34 484.23,264.34C486.12,265.35 497.46,269.09 498.40,269.43" fill="none" stroke="#aaaaaa" stroke-width="0.85" mask="url(#early)"/>
<path d="M87.47,39.31C88.41,39.79 99.75,45.54 101.64,46.46C103.53,47.37 113.92,52.22 115.81,53.02C117.70,53.82 128.09,57.77 129.98,58.45C131.87,59.13 142.26,62.67 144.15,63.25C146.04,63.83 156.43,66.63 158.32,67.16C160.21,67.68 170.60,70.58 172.49,71.14C174.38,71.70 184.77,74.98 186.66,75.62C188.55,76.26 198.94,79.80 200.83,80.69C202.72,81.58 213.11,87.62 215.00,88.93C216.89,90.25 227.28,98.86 229.17,100.41C231.06,101.96 241.45,110.65 243.34,112.16C245.23,113.67 255.62,121.49 257.51,123.05C259.40,124.61 269.79,134.07 271.68,135.55C273.57,137.03 283.96,143.97 285.85,145.24C287.74,146.52 298.13,153.09 300.02,154.61C301.91,156.13 312.30,166.39 314.19,168.06C316.08,169.73 326.47,178.13 328.36,179.70C330.25,181.26 340.64,190.14 342.53,191.54C344.42,192.94 354.81,199.74 356.70,200.66C358.59,201.58 368.98,204.79 370.87,205.35C372.76,205.90 383.15,208.35 385.04,209.04C386.93,209.72 397.32,214.58 399.21,215.65C401.10,216.72 411.49,223.77 413.38,225.11C415.27,226.44 425.66,234.46 427.55,235.66C429.44,236.85 439.83,242.10 441.72,243.08C443.61,244.05 454.00,249.53 455.89,250.28C457.78,251.04 468.17,253.43 470.06,254.37C471.95,255.31 482.34,263.34 484.23,264.34C486.12,265.35 497.46,269.09 498.40,269.43" fill="none" stroke="#9c9c9c" stroke-width="1.15" mask="url(#late)"/>
<path d="M87.47,39.33C88.41,39.80 99.75,45.57 101.64,46.49C103.53,47.40 113.92,52.24 115.81,53.04C117.70,53.84 128.09,57.78 129.98,58.46C131.87,59.14 142.26,62.66 144.15,63.24C146.04,63.81 156.43,66.59 158.32,67.11C160.21,67.64 170.60,70.51 172.49,71.08C174.38,71.65 184.77,74.97 186.66,75.61C188.55,76.26 198.94,79.84 200.83,80.76C202.72,81.68 213.11,87.99 215.00,89.38C216.89,90.76 227.28,99.99 229.17,101.60C231.06,103.21 241.45,111.89 243.34,113.50C245.23,115.12 255.62,123.97 257.51,125.80C259.40,127.63 269.79,139.05 271.68,140.96C273.57,142.87 283.96,153.02 285.85,154.47C287.74,155.93 298.13,161.57 300.02,162.80C301.91,164.02 312.30,171.45 314.19,172.89C316.08,174.33 326.47,182.85 328.36,184.45C330.25,186.05 340.64,195.44 342.53,196.93C344.42,198.41 354.81,205.67 356.70,206.75C358.59,207.83 368.98,212.35 370.87,213.18C372.76,214.01 383.15,218.29 385.04,219.22C386.93,220.16 397.32,226.17 399.21,227.20C401.10,228.22 411.49,233.60 413.38,234.60C415.27,235.60 425.66,241.26 427.55,242.20C429.44,243.15 439.83,247.79 441.72,248.81C443.61,249.83 454.00,256.52 455.89,257.51C457.78,258.51 468.17,262.89 470.06,263.69C471.95,264.49 482.34,268.87 484.23,269.49C486.12,270.11 497.46,272.78 498.40,273.02" fill="none" stroke="#aaaaaa" stroke-width="0.85" mask="url(#early)"/>
<path d="M87.47,39.33C88.41,39.80 99.75,45.57 101.64,46.49C103.53,47.40 113.92,52.24 115.81,53.04C117.70,53.84 128.09,57.78 129.98,58.46C131.87,59.14 142.26,62.66 144.15,63.24C146.04,63.81 156.43,66.59 158.32,67.11C160.21,67.64 170.60,70.51 172.49,71.08C174.38,71.65 184.77,74.97 186.66,75.61C188.55,76.26 198.94,79.84 200.83,80.76C202.72,81.68 213.11,87.99 215.00,89.38C216.89,90.76 227.28,99.99 229.17,101.60C231.06,103.21 241.45,111.89 243.34,113.50C245.23,115.12 255.62,123.97 257.51,125.80C259.40,127.63 269.79,139.05 271.68,140.96C273.57,142.87 283.96,153.02 285.85,154.47C287.74,155.93 298.13,161.57 300.02,162.80C301.91,164.02 312.30,171.45 314.19,172.89C316.08,174.33 326.47,182.85 328.36,184.45C330.25,186.05 340.64,195.44 342.53,196.93C344.42,198.41 354.81,205.67 356.70,206.75C358.59,207.83 368.98,212.35 370.87,213.18C372.76,214.01 383.15,218.29 385.04,219.22C386.93,220.16 397.32,226.17 399.21,227.20C401.10,228.22 411.49,233.60 413.38,234.60C415.27,235.60 425.66,241.26 427.55,242.20C429.44,243.15 439.83,247.79 441.72,248.81C443.61,249.83 454.00,256.52 455.89,257.51C457.78,258.51 468.17,262.89 470.06,263.69C471.95,264.49 482.34,268.87 484.23,269.49C486.12,270.11 497.46,272.78 498.40,273.02" fill="none" stroke="#9c9c9c" stroke-width="1.15" mask="url(#late)"/>
<path d="M87.47,39.88C88.41,40.37 99.75,46.27 101.64,47.21C103.53,48.14 113.92,53.09 115.81,53.91C117.70,54.72 128.09,58.71 129.98,59.40C131.87,60.09 142.26,63.61 144.15,64.20C146.04,64.79 156.43,67.65 158.32,68.19C160.21,68.73 170.60,71.74 172.49,72.31C174.38,72.89 184.77,76.17 186.66,76.81C188.55,77.44 198.94,80.90 200.83,81.77C202.72,82.65 213.11,88.67 215.00,89.95C216.89,91.22 227.28,99.49 229.17,100.93C231.06,102.36 241.45,110.07 243.34,111.40C245.23,112.73 255.62,119.46 257.51,120.91C259.40,122.36 269.79,131.68 271.68,133.15C273.57,134.61 283.96,141.56 285.85,142.90C287.74,144.24 298.13,151.66 300.02,153.23C301.91,154.79 312.30,164.92 314.19,166.42C316.08,167.91 326.47,174.32 328.36,175.60C330.25,176.89 340.64,184.36 342.53,185.70C344.42,187.05 354.81,194.64 356.70,195.82C358.59,196.99 368.98,202.40 370.87,203.28C372.76,204.16 383.15,208.33 385.04,209.00C386.93,209.66 397.32,212.69 399.21,213.27C401.10,213.85 411.49,216.92 413.38,217.72C415.27,218.53 425.66,224.03 427.55,225.31C429.44,226.58 439.83,235.27 441.72,236.83C443.61,238.40 454.00,247.62 455.89,248.74C457.78,249.86 468.17,252.70 470.06,253.65C471.95,254.59 482.34,262.02 484.23,262.88C486.12,263.73 497.46,266.23 498.40,266.47" fill="none" stroke="#aaaaaa" stroke-width="0.85" mask="url(#early)"/>
<path d="M87.47,39.88C88.41,40.37 99.75,46.27 101.64,47.21C103.53,48.14 113.92,53.09 115.81,53.91C117.70,54.72 128.09,58.71 129.98,59.40C131.87,60.09 142.26,63.61 144.15,64.20C146.04,64.79 156.43,67.65 158.32,68.19C160.21,68.73 170.60,71.74 172.49,72.31C174.38,72.89 184.77,76.17 186.66,76.81C188.55,77.44 198.94,80.90 200.83,81.77C202.72,82.65 213.11,88.67 215.00,89.95C216.89,91.22 227.28,99.49 229.17,100.93C231.06,102.36 241.45,110.07 243.34,111.40C245.23,112.73 255.62,119.46 257.51,120.91C259.40,122.36 269.79,131.68 271.68,133.15C273.57,134.61 283.96,141.56 285.85,142.90C287.74,144.24 298.13,151.66 300.02,153.23C301.91,154.79 312.30,164.92 314.19,166.42C316.08,167.91 326.47,174.32 328.36,175.60C330.25,176.89 340.64,184.36 342.53,185.70C344.42,187.05 354.81,194.64 356.70,195.82C358.59,196.99 368.98,202.40 370.87,203.28C372.76,204.16 383.15,208.33 385.04,209.00C386.93,209.66 397.32,212.69 399.21,213.27C401.10,213.85 411.49,216.92 413.38,217.72C415.27,218.53 425.66,224.03 427.55,225.31C429.44,226.58 439.83,235.27 441.72,236.83C443.61,238.40 454.00,247.62 455.89,248.74C457.78,249.86 468.17,252.70 470.06,253.65C471.95,254.59 482.34,262.02 484.23,262.88C486.12,263.73 497.46,266.23 498.40,266.47" fill="none" stroke="#9c9c9c" stroke-width="1.15" mask="url(#late)"/>
<path d="M87.47,39.87C88.41,40.36 99.75,46.27 101.64,47.21C103.53,48.14 113.92,53.11 115.81,53.93C117.70,54.75 128.09,58.77 129.98,59.45C131.87,60.14 142.26,63.65 144.15,64.23C146.04,64.81 156.43,67.61 158.32,68.15C160.21,68.68 170.60,71.64 172.49,72.21C174.38,72.79 184.77,76.11 186.66,76.75C188.55,77.39 198.94,80.88 200.83,81.81C202.72,82.74 213.11,89.21 215.00,90.68C216.89,92.15 227.28,102.13 229.17,103.85C231.06,105.57 241.45,114.83 243.34,116.44C245.23,118.06 255.62,126.40 257.51,128.07C259.40,129.75 269.79,139.74 271.68,141.60C273.57,143.46 283.96,154.24 285.85,155.96C287.74,157.68 298.13,165.92 300.02,167.40C301.91,168.88 312.30,176.72 314.19,178.16C316.08,179.61 326.47,187.66 328.36,189.06C330.25,190.46 340.64,197.88 342.53,199.16C344.42,200.43 354.81,207.10 356.70,208.21C358.59,209.31 368.98,214.80 370.87,215.79C372.76,216.77 383.15,221.96 385.04,223.03C386.93,224.09 397.32,230.54 399.21,231.72C401.10,232.89 411.49,239.38 413.38,240.65C415.27,241.92 425.66,249.72 427.55,250.70C429.44,251.68 439.83,254.71 441.72,255.30C443.61,255.88 454.00,258.95 455.89,259.52C457.78,260.10 468.17,263.18 470.06,263.91C471.95,264.64 482.34,269.68 484.23,270.50C486.12,271.32 497.46,275.81 498.40,276.19" fill="none" stroke="#aaaaaa" stroke-width="0.85" mask="url(#early)"/>
<path d="M87.47,39.87C88.41,40.36 99.75,46.27 101.64,47.21C103.53,48.14 113.92,53.11 115.81,53.93C117.70,54.75 128.09,58.77 129.98,59.45C131.87,60.14 142.26,63.65 144.15,64.23C146.04,64.81 156.43,67.61 158.32,68.15C160.21,68.68 170.60,71.64 172.49,72.21C174.38,72.79 184.77,76.11 186.66,76.75C188.55,77.39 198.94,80.88 200.83,81.81C202.72,82.74 213.11,89.21 215.00,90.68C216.89,92.15 227.28,102.13 229.17,103.85C231.06,105.57 241.45,114.83 243.34,116.44C245.23,118.06 255.62,126.40 257.51,128.07C259.40,129.75 269.79,139.74 271.68,141.60C273.57,143.46 283.96,154.24 285.85,155.96C287.74,157.68 298.13,165.92 300.02,167.40C301.91,168.88 312.30,176.72 314.19,178.16C316.08,179.61 326.47,187.66 328.36,189.06C330.25,190.46 340.64,197.88 342.53,199.16C344.42,200.43 354.81,207.10 356.70,208.21C358.59,209.31 368.98,214.80 370.87,215.79C372.76,216.77 383.15,221.96 385.04,223.03C386.93,224.09 397.32,230.54 399.21,231.72C401.10,232.89 411.49,239.38 413.38,240.65C415.27,241.92 425.66,249.72 427.55,250.70C429.44,251.68 439.83,254.71 441.72,255.30C443.61,255.88 454.00,258.95 455.89,259.52C457.78,260.10 468.17,263.18 470.06,263.91C471.95,264.64 482.34,269.68 484.23,270.50C486.12,271.32 497.46,275.81 498.40,276.19" fill="none" stroke="#9c9c9c" stroke-width="1.15" mask="url(#late)"/>
<path d="M87.47,40.40C88.41,40.89 99.75,46.88 101.64,47.83C103.53,48.78 113.92,53.80 115.81,54.63C117.70,55.46 128.09,59.55 129.98,60.25C131.87,60.95 142.26,64.53 144.15,65.13C146.04,65.72 156.43,68.59 158.32,69.13C160.21,69.67 170.60,72.69 172.49,73.26C174.38,73.83 184.77,77.10 186.66,77.73C188.55,78.36 198.94,81.77 200.83,82.67C202.72,83.58 213.11,89.91 215.00,91.32C216.89,92.72 227.28,102.16 229.17,103.78C231.06,105.41 241.45,114.12 243.34,115.66C245.23,117.21 255.62,125.31 257.51,126.92C259.40,128.52 269.79,138.14 271.68,139.77C273.57,141.40 283.96,149.99 285.85,151.34C287.74,152.69 298.13,158.73 300.02,160.03C301.91,161.33 312.30,169.41 314.19,170.82C316.08,172.23 326.47,179.68 328.36,181.18C330.25,182.67 340.64,191.67 342.53,193.23C344.42,194.80 354.81,203.28 356.70,204.59C358.59,205.91 368.98,212.04 370.87,213.01C372.76,213.97 383.15,218.31 385.04,219.09C386.93,219.88 397.32,223.98 399.21,224.76C401.10,225.53 411.49,229.75 413.38,230.67C415.27,231.60 425.66,237.60 427.55,238.61C429.44,239.61 439.83,244.75 441.72,245.78C443.61,246.80 454.00,253.08 455.89,253.99C457.78,254.91 468.17,258.58 470.06,259.49C471.95,260.40 482.34,266.79 484.23,267.66C486.12,268.52 497.46,272.13 498.40,272.45" fill="none" stroke="#aaaaaa" stroke-width="0.85" mask="url(#early)"/>
<path d="M87.47,40.40C88.41,40.89 99.75,46.88 101.64,47.83C103.53,48.78 113.92,53.80 115.81,54.63C117.70,55.46 128.09,59.55 129.98,60.25C131.87,60.95 142.26,64.53 144.15,65.13C146.04,65.72 156.43,68.59 158.32,69.13C160.21,69.67 170.60,72.69 172.49,73.26C174.38,73.83 184.77,77.10 186.66,77.73C188.55,78.36 198.94,81.77 200.83,82.67C202.72,83.58 213.11,89.91 215.00,91.32C216.89,92.72 227.28,102.16 229.17,103.78C231.06,105.41 241.45,114.12 243.34,115.66C245.23,117.21 255.62,125.31 257.51,126.92C259.40,128.52 269.79,138.14 271.68,139.77C273.57,141.40 283.96,149.99 285.85,151.34C287.74,152.69 298.13,158.73 300.02,160.03C301.91,161.33 312.30,169.41 314.19,170.82C316.08,172.23 326.47,179.68 328.36,181.18C330.25,182.67 340.64,191.67 342.53,193.23C344.42,194.80 354.81,203.28 356.70,204.59C358.59,205.91 368.98,212.04 370.87,213.01C372.76,213.97 383.15,218.31 385.04,219.09C386.93,219.88 397.32,223.98 399.21,224.76C401.10,225.53 411.49,229.75 413.38,230.67C415.27,231.60 425.66,237.60 427.55,238.61C429.44,239.61 439.83,244.75 441.72,245.78C443.61,246.80 454.00,253.08 455.89,253.99C457.78,254.91 468.17,258.58 470.06,259.49C471.95,260.40 482.34,266.79 484.23,267.66C486.12,268.52 497.46,272.13 498.40,272.45" fill="none" stroke="#9c9c9c" stroke-width="1.15" mask="url(#late)"/>
<path d="M87.47,40.40C88.41,40.90 99.75,46.90 101.64,47.85C103.53,48.80 113.92,53.82 115.81,54.65C117.70,55.48 128.09,59.56 129.98,60.26C131.87,60.95 142.26,64.52 144.15,65.11C146.04,65.70 156.43,68.55 158.32,69.10C160.21,69.64 170.60,72.66 172.49,73.23C174.38,73.81 184.77,77.10 186.66,77.73C188.55,78.37 198.94,81.80 200.83,82.71C202.72,83.61 213.11,89.93 215.00,91.31C216.89,92.69 227.28,101.90 229.17,103.44C231.06,104.97 241.45,112.93 243.34,114.28C245.23,115.63 255.62,122.30 257.51,123.73C259.40,125.16 269.79,134.23 271.68,135.72C273.57,137.22 283.96,144.79 285.85,146.15C287.74,147.51 298.13,154.63 300.02,156.17C301.91,157.71 312.30,167.61 314.19,169.24C316.08,170.88 326.47,179.11 328.36,180.67C330.25,182.24 340.64,191.28 342.53,192.75C344.42,194.22 354.81,201.69 356.70,202.73C358.59,203.77 368.98,207.77 370.87,208.34C372.76,208.92 383.15,210.93 385.04,211.41C386.93,211.89 397.32,214.77 399.21,215.51C401.10,216.26 411.49,221.36 413.38,222.54C415.27,223.72 425.66,231.76 427.55,233.21C429.44,234.67 439.83,242.95 441.72,244.35C443.61,245.76 454.00,253.26 455.89,254.25C457.78,255.25 468.17,258.49 470.06,259.30C471.95,260.11 482.34,265.71 484.23,266.38C486.12,267.05 497.46,269.16 498.40,269.36" fill="none" stroke="#aaaaaa" stroke-width="0.85" mask="url(#early)"/>
<path d="M87.47,40.40C88.41,40.90 99.75,46.90 101.64,47.85C103.53,48.80 113.92,53.82 115.81,54.65C117.70,55.48 128.09,59.56 129.98,60.26C131.87,60.95 142.26,64.52 144.15,65.11C146.04,65.70 156.43,68.55 158.32,69.10C160.21,69.64 170.60,72.66 172.49,73.23C174.38,73.81 184.77,77.10 186.66,77.73C188.55,78.37 198.94,81.80 200.83,82.71C202.72,83.61 213.11,89.93 215.00,91.31C216.89,92.69 227.28,101.90 229.17,103.44C231.06,104.97 241.45,112.93 243.34,114.28C245.23,115.63 255.62,122.30 257.51,123.73C259.40,125.16 269.79,134.23 271.68,135.72C273.57,137.22 283.96,144.79 285.85,146.15C287.74,147.51 298.13,154.63 300.02,156.17C301.91,157.71 312.30,167.61 314.19,169.24C316.08,170.88 326.47,179.11 328.36,180.67C330.25,182.24 340.64,191.28 342.53,192.75C344.42,194.22 354.81,201.69 356.70,202.73C358.59,203.77 368.98,207.77 370.87,208.34C372.76,208.92 383.15,210.93 385.04,211.41C386.93,211.89 397.32,214.77 399.21,215.51C401.10,216.26 411.49,221.36 413.38,222.54C415.27,223.72 425.66,231.76 427.55,233.21C429.44,234.67 439.83,242.95 441.72,244.35C443.61,245.76 454.00,253.26 455.89,254.25C457.78,255.25 468.17,258.49 470.06,259.30C471.95,260.11 482.34,265.71 484.23,266.38C486.12,267.05 497.46,269.16 498.40,269.36" fill="none" stroke="#9c9c9c" stroke-width="1.15" mask="url(#late)"/>
<path d="M87.47,40.41C88.41,40.90 99.75,46.88 101.64,47.83C103.53,48.77 113.92,53.76 115.81,54.58C117.70,55.41 128.09,59.49 129.98,60.19C131.87,60.89 142.26,64.53 144.15,65.13C146.04,65.73 156.43,68.66 158.32,69.21C160.21,69.76 170.60,72.76 172.49,73.33C174.38,73.89 184.77,77.10 186.66,77.73C188.55,78.35 198.94,81.73 200.83,82.66C202.72,83.59 213.11,90.18 215.00,91.71C216.89,93.24 227.28,103.81 229.17,105.60C231.06,107.40 241.45,116.96 243.34,118.63C245.23,120.31 255.62,129.00 257.51,130.78C259.40,132.55 269.79,143.22 271.68,145.23C273.57,147.24 283.96,159.22 285.85,160.92C287.74,162.61 298.13,169.46 300.02,170.64C301.91,171.82 312.30,177.36 314.19,178.59C316.08,179.83 326.47,187.60 328.36,189.19C330.25,190.78 340.64,200.77 342.53,202.39C344.42,204.00 354.81,212.08 356.70,213.41C358.59,214.73 368.98,221.34 370.87,222.23C372.76,223.11 383.15,225.93 385.04,226.70C386.93,227.48 397.32,232.71 399.21,233.84C401.10,234.97 411.49,242.24 413.38,243.61C415.27,244.97 425.66,253.27 427.55,254.30C429.44,255.34 439.83,258.61 441.72,259.17C443.61,259.72 454.00,262.00 455.89,262.63C457.78,263.25 468.17,267.84 470.06,268.56C471.95,269.28 482.34,272.78 484.23,273.43C486.12,274.09 497.46,278.03 498.40,278.36" fill="none" stroke="#aaaaaa" stroke-width="0.85" mask="url(#early)"/>
<path d="M87.47,40.41C88.41,40.90 99.75,46.88 101.64,47.83C103.53,48.77 113.92,53.76 115.81,54.58C117.70,55.41 128.09,59.49 129.98,60.19C131.87,60.89 142.26,64.53 144.15,65.13C146.04,65.73 156.43,68.66 158.32,69.21C160.21,69.76 170.60,72.76 172.49,73.33C174.38,73.89 184.77,77.10 186.66,77.73C188.55,78.35 198.94,81.73 200.83,82.66C202.72,83.59 213.11,90.18 215.00,91.71C216.89,93.24 227.28,103.81 229.17,105.60C231.06,107.40 241.45,116.96 243.34,118.63C245.23,120.31 255.62,129.00 257.51,130.78C259.40,132.55 269.79,143.22 271.68,145.23C273.57,147.24 283.96,159.22 285.85,160.92C287.74,162.61 298.13,169.46 300.02,170.64C301.91,171.82 312.30,177.36 314.19,178.59C316.08,179.83 326.47,187.60 328.36,189.19C330.25,190.78 340.64,200.77 342.53,202.39C344.42,204.00 354.81,212.08 356.70,213.41C358.59,214.73 368.98,221.34 370.87,222.23C372.76,223.11 383.15,225.93 385.04,226.70C386.93,227.48 397.32,232.71 399.21,233.84C401.10,234.97 411.49,242.24 413.38,243.61C415.27,244.97 425.66,253.27 427.55,254.30C429.44,255.34 439.83,258.61 441.72,259.17C443.61,259.72 454.00,262.00 455.89,262.63C457.78,263.25 468.17,267.84 470.06,268.56C471.95,269.28 482.34,272.78 484.23,273.43C486.12,274.09 497.46,278.03 498.40,278.36" fill="none" stroke="#9c9c9c" stroke-width="1.15" mask="url(#late)"/>
<line x1="271.7" y1="16.3" x2="271.7" y2="313.5" stroke="#000" stroke-width="1.3" stroke-dasharray="4.8 3.2 1.6 2.6 1.6 3.33"/>
<path d="M91.46,38.86L97.65,41.74M105.66,45.39L111.79,48.11M119.95,51.39L125.84,53.51M134.17,56.33L139.96,58.17M148.42,60.56L154.05,61.94M162.55,64.20L168.26,65.80M176.64,68.46L182.51,70.54M190.77,73.57L196.72,75.83M204.77,79.35L211.06,82.45M218.63,86.89L225.54,91.61M232.31,97.18L240.20,104.92M246.58,110.97L254.27,118.03M260.25,124.44L268.94,135.36M274.85,141.85L282.68,149.35M289.42,154.97L296.45,160.03M303.50,165.30L310.71,170.90M317.78,176.14L324.77,181.06M332.01,186.05L338.88,190.65M346.38,195.22L352.85,198.78M360.61,202.92L366.96,206.18M374.98,209.77L380.93,212.03M389.01,215.50L395.24,218.50M403.01,222.62L409.58,226.48M416.77,231.50L424.16,237.60M431.30,242.70L437.97,246.80M445.66,251.05L451.95,254.15M460.04,257.56L465.91,259.64M474.09,262.86L480.20,265.54M488.48,268.44L494.15,269.96" stroke="#ff2a2a" stroke-width="1" fill="none"/>
<rect x="84.07" y="33.70" width="6.8" height="6.6" fill="#ff0000"/>
<rect x="98.24" y="40.30" width="6.8" height="6.6" fill="#ff0000"/>
<rect x="112.41" y="46.60" width="6.8" height="6.6" fill="#ff0000"/>
<rect x="126.58" y="51.70" width="6.8" height="6.6" fill="#ff0000"/>
<rect x="140.75" y="56.20" width="6.8" height="6.6" fill="#ff0000"/>
<rect x="154.92" y="59.70" width="6.8" height="6.6" fill="#ff0000"/>
<rect x="169.09" y="63.70" width="6.8" height="6.6" fill="#ff0000"/>
<rect x="183.26" y="68.70" width="6.8" height="6.6" fill="#ff0000"/>
<rect x="197.43" y="74.10" width="6.8" height="6.6" fill="#ff0000"/>
<rect x="211.60" y="81.10" width="6.8" height="6.6" fill="#ff0000"/>
<rect x="225.77" y="90.80" width="6.8" height="6.6" fill="#ff0000"/>
<rect x="239.94" y="104.70" width="6.8" height="6.6" fill="#ff0000"/>
<rect x="254.11" y="117.70" width="6.8" height="6.6" fill="#ff0000"/>
<rect x="268.28" y="135.50" width="6.8" height="6.6" fill="#ff0000"/>
<rect x="282.45" y="149.10" width="6.8" height="6.6" fill="#ff0000"/>
<rect x="296.62" y="159.30" width="6.8" height="6.6" fill="#ff0000"/>
<rect x="310.79" y="170.30" width="6.8" height="6.6" fill="#ff0000"/>
<rect x="324.96" y="180.30" width="6.8" height="6.6" fill="#ff0000"/>
<rect x="339.13" y="189.80" width="6.8" height="6.6" fill="#ff0000"/>
<rect x="353.30" y="197.60" width="6.8" height="6.6" fill="#ff0000"/>
<rect x="367.47" y="204.90" width="6.8" height="6.6" fill="#ff0000"/>
<rect x="381.64" y="210.30" width="6.8" height="6.6" fill="#ff0000"/>
<rect x="395.81" y="217.10" width="6.8" height="6.6" fill="#ff0000"/>
<rect x="409.98" y="225.40" width="6.8" height="6.6" fill="#ff0000"/>
<rect x="424.15" y="237.10" width="6.8" height="6.6" fill="#ff0000"/>
<rect x="438.32" y="245.80" width="6.8" height="6.6" fill="#ff0000"/>
<rect x="452.49" y="252.80" width="6.8" height="6.6" fill="#ff0000"/>
<rect x="466.66" y="257.80" width="6.8" height="6.6" fill="#ff0000"/>
<rect x="480.83" y="264.00" width="6.8" height="6.6" fill="#ff0000"/>
<rect x="495.00" y="267.80" width="6.8" height="6.6" fill="#ff0000"/>
</g>
<g clip-path="url(#pc3)">
<path d="M92.27,313.70L96.84,313.70M106.44,313.70L111.01,313.70M120.61,313.70L125.18,313.70M134.78,313.70L139.35,313.70M148.95,313.70L153.52,313.70M163.12,313.70L167.69,313.70M177.29,313.70L181.86,313.70M191.46,313.70L196.03,313.70M205.63,313.70L210.20,313.70M219.80,313.70L224.37,313.70M233.97,313.70L238.54,313.70M248.14,313.70L252.71,313.70M261.63,311.24L267.56,307.69M276.48,305.23L281.05,305.23M288.93,301.55L296.94,291.98M303.10,284.61L311.11,275.04M316.04,266.93L326.51,241.91M330.21,233.05L340.68,208.04M345.61,199.93L353.62,190.35M359.78,182.99L367.79,173.42M373.95,166.05L381.96,156.48M387.38,148.61L396.87,131.58M402.29,123.71L410.30,114.14M417.50,107.99L423.43,104.45M429.89,97.79L439.38,80.77M446.52,76.58L451.09,76.58M460.01,74.12L465.94,70.57M473.14,64.43L481.15,54.86M487.31,47.49L495.32,37.92" stroke="#0000ff" stroke-width="1.1" fill="none"/>
<path d="M285.85,300.03L290.35,307.83L281.35,307.83Z" fill="#0000ff"/>
<path d="M300.02,283.09L304.52,290.89L295.52,290.89Z" fill="#0000ff"/>
<path d="M314.19,266.16L318.69,273.96L309.69,273.96Z" fill="#0000ff"/>
<path d="M328.36,232.28L332.86,240.08L323.86,240.08Z" fill="#0000ff"/>
<path d="M342.53,198.41L347.03,206.21L338.03,206.21Z" fill="#0000ff"/>
<path d="M356.70,181.47L361.20,189.27L352.20,189.27Z" fill="#0000ff"/>
<path d="M370.87,164.53L375.37,172.33L366.37,172.33Z" fill="#0000ff"/>
<path d="M385.04,147.60L389.54,155.40L380.54,155.40Z" fill="#0000ff"/>
<path d="M399.21,122.19L403.71,129.99L394.71,129.99Z" fill="#0000ff"/>
<path d="M413.38,105.25L417.88,113.05L408.88,113.05Z" fill="#0000ff"/>
<path d="M427.55,96.79L432.05,104.59L423.05,104.59Z" fill="#0000ff"/>
<path d="M441.72,71.38L446.22,79.18L437.22,79.18Z" fill="#0000ff"/>
<path d="M455.89,71.38L460.39,79.18L451.39,79.18Z" fill="#0000ff"/>
<path d="M470.06,62.91L474.56,70.71L465.56,70.71Z" fill="#0000ff"/>
<path d="M484.23,45.97L488.73,53.77L479.73,53.77Z" fill="#0000ff"/>
<path d="M498.40,29.04L502.90,36.84L493.90,36.84Z" fill="#0000ff"/>
</g>
<g clip-path="url(#pc2)">
<path d="M91.87,313.70L97.24,313.70M106.04,313.70L111.41,313.70M120.21,313.70L125.58,313.70M134.38,313.70L139.75,313.70M148.55,313.70L153.92,313.70M162.72,313.70L168.09,313.70M176.89,313.70L182.26,313.70M191.06,313.70L196.43,313.70M205.23,313.70L210.60,313.70M219.40,313.70L224.77,313.70M233.57,313.70L238.94,313.70M247.12,311.44L253.73,307.49M261.91,305.23L267.28,305.23M275.46,302.97L282.07,299.02M287.55,292.70L298.32,266.95M302.16,259.05L312.05,241.33M315.89,233.42L326.66,207.67M330.06,199.55L340.83,173.79M345.35,166.36L353.88,156.17M358.84,148.95L368.73,131.23M374.65,125.13L381.26,121.18M388.82,116.67L395.43,112.71M400.91,106.40L411.68,80.64M416.20,73.21L424.73,63.02M431.95,59.64L437.32,59.64M445.50,57.39L452.11,53.43M459.67,48.92L466.28,44.96M472.88,39.33L481.41,29.14M486.37,21.93L496.26,4.21" stroke="#a0a0a0" stroke-width="1" fill="none"/>
<path d="M87.47,309.10L91.47,316.00L83.47,316.00Z" fill="#fff" stroke="#a0a0a0" stroke-width="1"/>
<path d="M101.64,309.10L105.64,316.00L97.64,316.00Z" fill="#fff" stroke="#a0a0a0" stroke-width="1"/>
<path d="M115.81,309.10L119.81,316.00L111.81,316.00Z" fill="#fff" stroke="#a0a0a0" stroke-width="1"/>
<path d="M129.98,309.10L133.98,316.00L125.98,316.00Z" fill="#fff" stroke="#a0a0a0" stroke-width="1"/>
<path d="M144.15,309.10L148.15,316.00L140.15,316.00Z" fill="#fff" stroke="#a0a0a0" stroke-width="1"/>
<path d="M158.32,309.10L162.32,316.00L154.32,316.00Z" fill="#fff" stroke="#a0a0a0" stroke-width="1"/>
<path d="M172.49,309.10L176.49,316.00L168.49,316.00Z" fill="#fff" stroke="#a0a0a0" stroke-width="1"/>
<path d="M186.66,309.10L190.66,316.00L182.66,316.00Z" fill="#fff" stroke="#a0a0a0" stroke-width="1"/>
<path d="M200.83,309.10L204.83,316.00L196.83,316.00Z" fill="#fff" stroke="#a0a0a0" stroke-width="1"/>
<path d="M215.00,309.10L219.00,316.00L211.00,316.00Z" fill="#fff" stroke="#a0a0a0" stroke-width="1"/>
<path d="M229.17,309.10L233.17,316.00L225.17,316.00Z" fill="#fff" stroke="#a0a0a0" stroke-width="1"/>
<path d="M243.34,309.10L247.34,316.00L239.34,316.00Z" fill="#fff" stroke="#a0a0a0" stroke-width="1"/>
<path d="M257.51,300.63L261.51,307.53L253.51,307.53Z" fill="#fff" stroke="#a0a0a0" stroke-width="1"/>
<path d="M271.68,300.63L275.68,307.53L267.68,307.53Z" fill="#fff" stroke="#a0a0a0" stroke-width="1"/>
<path d="M285.85,292.16L289.85,299.06L281.85,299.06Z" fill="#fff" stroke="#a0a0a0" stroke-width="1"/>
<path d="M300.02,258.29L304.02,265.19L296.02,265.19Z" fill="#fff" stroke="#a0a0a0" stroke-width="1"/>
<path d="M314.19,232.88L318.19,239.78L310.19,239.78Z" fill="#fff" stroke="#a0a0a0" stroke-width="1"/>
<path d="M328.36,199.01L332.36,205.91L324.36,205.91Z" fill="#fff" stroke="#a0a0a0" stroke-width="1"/>
<path d="M342.53,165.13L346.53,172.03L338.53,172.03Z" fill="#fff" stroke="#a0a0a0" stroke-width="1"/>
<path d="M356.70,148.20L360.70,155.10L352.70,155.10Z" fill="#fff" stroke="#a0a0a0" stroke-width="1"/>
<path d="M370.87,122.79L374.87,129.69L366.87,129.69Z" fill="#fff" stroke="#a0a0a0" stroke-width="1"/>
<path d="M385.04,114.32L389.04,121.22L381.04,121.22Z" fill="#fff" stroke="#a0a0a0" stroke-width="1"/>
<path d="M399.21,105.85L403.21,112.75L395.21,112.75Z" fill="#fff" stroke="#a0a0a0" stroke-width="1"/>
<path d="M413.38,71.98L417.38,78.88L409.38,78.88Z" fill="#fff" stroke="#a0a0a0" stroke-width="1"/>
<path d="M427.55,55.04L431.55,61.94L423.55,61.94Z" fill="#fff" stroke="#a0a0a0" stroke-width="1"/>
<path d="M441.72,55.04L445.72,61.94L437.72,61.94Z" fill="#fff" stroke="#a0a0a0" stroke-width="1"/>
<path d="M455.89,46.57L459.89,53.47L451.89,53.47Z" fill="#fff" stroke="#a0a0a0" stroke-width="1"/>
<path d="M470.06,38.11L474.06,45.01L466.06,45.01Z" fill="#fff" stroke="#a0a0a0" stroke-width="1"/>
<path d="M484.23,21.17L488.23,28.07L480.23,28.07Z" fill="#fff" stroke="#a0a0a0" stroke-width="1"/>
<path d="M498.40,-4.24L502.40,2.66L494.40,2.66Z" fill="#fff" stroke="#a0a0a0" stroke-width="1"/>
<path d="M91.87,313.70L97.24,313.70M106.04,313.70L111.41,313.70M120.21,313.70L125.58,313.70M134.38,313.70L139.75,313.70M148.55,313.70L153.92,313.70M162.72,313.70L168.09,313.70M176.89,313.70L182.26,313.70M191.06,313.70L196.43,313.70M205.23,313.70L210.60,313.70M219.40,313.70L224.77,313.70M233.57,313.70L238.94,313.70M247.74,313.70L253.11,313.70M261.91,313.70L267.28,313.70M276.08,313.70L281.45,313.70M289.63,311.44L296.24,307.49M303.80,302.97L310.41,299.02M316.33,292.92L326.22,275.20M330.06,267.30L340.83,241.54M345.35,234.11L353.88,223.92M359.52,217.17L368.05,206.98M373.69,200.23L382.22,190.05M386.44,182.50L397.81,148.50M403.61,144.33L408.98,144.33M416.20,140.95L424.73,130.77M430.37,124.02L438.90,113.83M444.54,107.08L453.07,96.89M459.67,91.26L466.28,87.31M473.84,82.79L480.45,78.84M487.05,73.21L495.58,63.02" stroke="#a0a0a0" stroke-width="1" fill="none"/>
<path d="M87.47,309.10L91.47,316.00L83.47,316.00Z" fill="#fff" stroke="#a0a0a0" stroke-width="1"/>
<path d="M101.64,309.10L105.64,316.00L97.64,316.00Z" fill="#fff" stroke="#a0a0a0" stroke-width="1"/>
<path d="M115.81,309.10L119.81,316.00L111.81,316.00Z" fill="#fff" stroke="#a0a0a0" stroke-width="1"/>
<path d="M129.98,309.10L133.98,316.00L125.98,316.00Z" fill="#fff" stroke="#a0a0a0" stroke-width="1"/>
<path d="M144.15,309.10L148.15,316.00L140.15,316.00Z" fill="#fff" stroke="#a0a0a0" stroke-width="1"/>
<path d="M158.32,309.10L162.32,316.00L154.32,316.00Z" fill="#fff" stroke="#a0a0a0" stroke-width="1"/>
<path d="M172.49,309.10L176.49,316.00L168.49,316.00Z" fill="#fff" stroke="#a0a0a0" stroke-width="1"/>
<path d="M186.66,309.10L190.66,316.00L182.66,316.00Z" fill="#fff" stroke="#a0a0a0" stroke-width="1"/>
<path d="M200.83,309.10L204.83,316.00L196.83,316.00Z" fill="#fff" stroke="#a0a0a0" stroke-width="1"/>
<path d="M215.00,309.10L219.00,316.00L211.00,316.00Z" fill="#fff" stroke="#a0a0a0" stroke-width="1"/>
<path d="M229.17,309.10L233.17,316.00L225.17,316.00Z" fill="#fff" stroke="#a0a0a0" stroke-width="1"/>
<path d="M243.34,309.10L247.34,316.00L239.34,316.00Z" fill="#fff" stroke="#a0a0a0" stroke-width="1"/>
<path d="M257.51,309.10L261.51,316.00L253.51,316.00Z" fill="#fff" stroke="#a0a0a0" stroke-width="1"/>
<path d="M271.68,309.10L275.68,316.00L267.68,316.00Z" fill="#fff" stroke="#a0a0a0" stroke-width="1"/>
<path d="M285.85,309.10L289.85,316.00L281.85,316.00Z" fill="#fff" stroke="#a0a0a0" stroke-width="1"/>
<path d="M300.02,300.63L304.02,307.53L296.02,307.53Z" fill="#fff" stroke="#a0a0a0" stroke-width="1"/>
<path d="M314.19,292.16L318.19,299.06L310.19,299.06Z" fill="#fff" stroke="#a0a0a0" stroke-width="1"/>
<path d="M328.36,266.76L332.36,273.66L324.36,273.66Z" fill="#fff" stroke="#a0a0a0" stroke-width="1"/>
<path d="M342.53,232.88L346.53,239.78L338.53,239.78Z" fill="#fff" stroke="#a0a0a0" stroke-width="1"/>
<path d="M356.70,215.95L360.70,222.85L352.70,222.85Z" fill="#fff" stroke="#a0a0a0" stroke-width="1"/>
<path d="M370.87,199.01L374.87,205.91L366.87,205.91Z" fill="#fff" stroke="#a0a0a0" stroke-width="1"/>
<path d="M385.04,182.07L389.04,188.97L381.04,188.97Z" fill="#fff" stroke="#a0a0a0" stroke-width="1"/>
<path d="M399.21,139.73L403.21,146.63L395.21,146.63Z" fill="#fff" stroke="#a0a0a0" stroke-width="1"/>
<path d="M413.38,139.73L417.38,146.63L409.38,146.63Z" fill="#fff" stroke="#a0a0a0" stroke-width="1"/>
<path d="M427.55,122.79L431.55,129.69L423.55,129.69Z" fill="#fff" stroke="#a0a0a0" stroke-width="1"/>
<path d="M441.72,105.85L445.72,112.75L437.72,112.75Z" fill="#fff" stroke="#a0a0a0" stroke-width="1"/>
<path d="M455.89,88.92L459.89,95.82L451.89,95.82Z" fill="#fff" stroke="#a0a0a0" stroke-width="1"/>
<path d="M470.06,80.45L474.06,87.35L466.06,87.35Z" fill="#fff" stroke="#a0a0a0" stroke-width="1"/>
<path d="M484.23,71.98L488.23,78.88L480.23,78.88Z" fill="#fff" stroke="#a0a0a0" stroke-width="1"/>
<path d="M498.40,55.04L502.40,61.94L494.40,61.94Z" fill="#fff" stroke="#a0a0a0" stroke-width="1"/>
</g>
<text x="66.5" y="23.10" text-anchor="end" font-family="Liberation Serif" font-size="18" fill="#000" stroke="#000" stroke-width="0.2">1500</text>
<text x="66.5" y="97.20" text-anchor="end" font-family="Liberation Serif" font-size="18" fill="#000" stroke="#000" stroke-width="0.2">1300</text>
<text x="66.5" y="171.30" text-anchor="end" font-family="Liberation Serif" font-size="18" fill="#000" stroke="#000" stroke-width="0.2">1100</text>
<text x="66.5" y="245.40" text-anchor="end" font-family="Liberation Serif" font-size="18" fill="#000" stroke="#000" stroke-width="0.2">900</text>
<text x="66.5" y="319.50" text-anchor="end" font-family="Liberation Serif" font-size="18" fill="#000" stroke="#000" stroke-width="0.2">700</text>
<text x="504.5" y="319.50" font-family="Liberation Serif" font-size="18" fill="#000" stroke="#000" stroke-width="0.2">0</text>
<text x="504.5" y="260.22" font-family="Liberation Serif" font-size="18" fill="#000" stroke="#000" stroke-width="0.2">7</text>
<text x="504.5" y="200.94" font-family="Liberation Serif" font-size="18" fill="#000" stroke="#000" stroke-width="0.2">14</text>
<text x="504.5" y="141.66" font-family="Liberation Serif" font-size="18" fill="#000" stroke="#000" stroke-width="0.2">21</text>
<text x="504.5" y="82.38" font-family="Liberation Serif" font-size="18" fill="#000" stroke="#000" stroke-width="0.2">28</text>
<text x="504.5" y="23.10" font-family="Liberation Serif" font-size="18" fill="#000" stroke="#000" stroke-width="0.2">35</text>
<text x="73.30" y="333.8" text-anchor="middle" font-family="Liberation Serif" font-size="18" fill="#000" stroke="#000" stroke-width="0.2">0</text>
<text x="144.15" y="333.8" text-anchor="middle" font-family="Liberation Serif" font-size="18" fill="#000" stroke="#000" stroke-width="0.2">5</text>
<text x="215.00" y="333.8" text-anchor="middle" font-family="Liberation Serif" font-size="18" fill="#000" stroke="#000" stroke-width="0.2">10</text>
<text x="285.85" y="333.8" text-anchor="middle" font-family="Liberation Serif" font-size="18" fill="#000" stroke="#000" stroke-width="0.2">15</text>
<text x="356.70" y="333.8" text-anchor="middle" font-family="Liberation Serif" font-size="18" fill="#000" stroke="#000" stroke-width="0.2">20</text>
<text x="427.55" y="333.8" text-anchor="middle" font-family="Liberation Serif" font-size="18" fill="#000" stroke="#000" stroke-width="0.2">25</text>
<text x="498.40" y="333.8" text-anchor="middle" font-family="Liberation Serif" font-size="18" fill="#000" stroke="#000" stroke-width="0.2">30</text>
<text x="285.7" y="351.8" text-anchor="middle" font-family="Liberation Serif" font-size="18" fill="#000" stroke="#000" stroke-width="0.2">Service time(year)</text>
<text transform="translate(26.2,157) rotate(-90)" x="0" y="0" text-anchor="middle" font-family="Liberation Serif" font-size="18" fill="#000" stroke="#000" stroke-width="0.2">Bearing capacity(kN)</text>
<text transform="translate(536.6,165.2) rotate(-90)" x="0" y="0" text-anchor="middle" font-family="Liberation Serif" font-size="18" fill="#000" stroke="#000" stroke-width="0.2">Number</text>
<text x="275.6" y="77" font-family="Liberation Serif" font-size="18" fill="#000" stroke="#000" stroke-width="0.2">Degradation</text>
<text x="275.6" y="98.7" font-family="Liberation Serif" font-size="18" fill="#000" stroke="#000" stroke-width="0.2">Coefficient:0.81</text>
<text x="373.3" y="42.7" font-family="Liberation Serif" font-size="18" fill="#000" stroke="#000" stroke-width="0.2">Upper limit</text>
<text x="401.8" y="177.4" font-family="Liberation Serif" font-size="18" fill="#000" stroke="#000" stroke-width="0.2">Lower limit</text>
<line x1="275.60" y1="130.40" x2="287.93" y2="119.61" stroke="#000" stroke-width="1.2"/><path d="M293.20,115.00L288.76,122.07L288.08,119.48L285.60,118.46Z" fill="#000"/>
<line x1="432.60" y1="55.60" x2="432.60" y2="50.70" stroke="#000" stroke-width="1.2"/><path d="M432.60,43.70L435.00,51.70L432.60,50.50L430.20,51.70Z" fill="#000"/>
<line x1="417.50" y1="148.30" x2="417.50" y2="152.70" stroke="#000" stroke-width="1.2"/><path d="M417.50,159.70L415.10,151.70L417.50,152.90L419.90,151.70Z" fill="#000"/>
<line x1="78.9" y1="207.7" x2="119.9" y2="207.7" stroke="#ff5050" stroke-width="1"/>
<rect x="96.1" y="204.5" width="6.8" height="6.6" fill="#ff0000"/>
<line x1="78.9" y1="229.5" x2="119.9" y2="229.5" stroke="#a0a0a0" stroke-width="1"/>
<line x1="78.9" y1="251.4" x2="119.9" y2="251.4" stroke="#0000ff" stroke-width="1.1"/>
<path d="M99.70,246.20L104.20,254.00L95.20,254.00Z" fill="#0000ff"/>
<text x="124" y="213.5" font-family="Liberation Serif" font-size="18" fill="#000" stroke="#000" stroke-width="0.2">Mean value</text>
<text x="124" y="235.5" font-family="Liberation Serif" font-size="18" fill="#000" stroke="#000" stroke-width="0.2">Cable bearing capacity</text>
<text x="124" y="257.5" font-family="Liberation Serif" font-size="18" fill="#000" stroke="#000" stroke-width="0.2">Number of broken wires</text>
</svg>
</body></html>
